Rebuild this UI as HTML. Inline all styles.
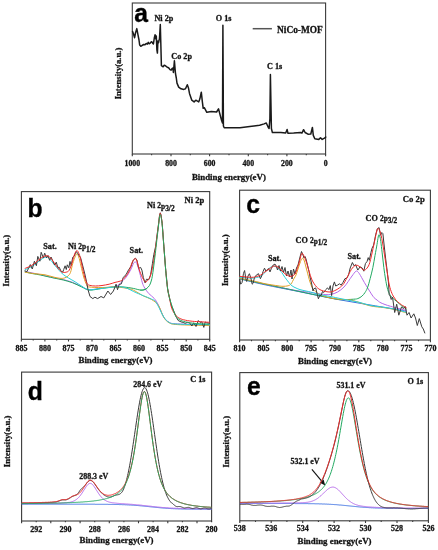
<!DOCTYPE html>
<html><head><meta charset="utf-8"><style>
html,body{margin:0;padding:0;background:#fff;width:438px;height:550px;overflow:hidden;}
svg{display:block;will-change:transform;}
text{fill:#111;}
.s{stroke:#1a1a1a;stroke-width:0.3px;}
</style></head><body>
<svg width="438" height="550" viewBox="0 0 438 550"><rect x="132.3" y="3.0" width="193.3" height="151.0" fill="none" stroke="#3a3a3a" stroke-width="1.1"/>
<path d="M132.3,154.0 v2.2 M151.6,154.0 v1.3 M171.0,154.0 v2.2 M190.3,154.0 v1.3 M209.6,154.0 v2.2 M229.0,154.0 v1.3 M248.3,154.0 v2.2 M267.6,154.0 v1.3 M286.9,154.0 v2.2 M306.3,154.0 v1.3 M325.6,154.0 v2.2 " stroke="#3a3a3a" stroke-width="1.1" fill="none"/>
<text class="s" x="132.3" y="166.1" font-size="7.80" text-anchor="middle" font-weight="bold" font-family="Liberation Serif" >1000</text>
<text class="s" x="171.0" y="166.1" font-size="7.80" text-anchor="middle" font-weight="bold" font-family="Liberation Serif" >800</text>
<text class="s" x="209.6" y="166.1" font-size="7.80" text-anchor="middle" font-weight="bold" font-family="Liberation Serif" >600</text>
<text class="s" x="248.3" y="166.1" font-size="7.80" text-anchor="middle" font-weight="bold" font-family="Liberation Serif" >400</text>
<text class="s" x="286.9" y="166.1" font-size="7.80" text-anchor="middle" font-weight="bold" font-family="Liberation Serif" >200</text>
<text class="s" x="325.6" y="166.1" font-size="7.80" text-anchor="middle" font-weight="bold" font-family="Liberation Serif" >0</text>
<text class="s" x="228.9" y="179.6" font-size="8.85" text-anchor="middle" font-weight="bold" font-family="Liberation Serif" >Binding energy(eV)</text>
<text class="s" x="0" y="0" font-size="8.60" text-anchor="middle" font-weight="bold" font-family="Liberation Serif" transform="translate(120.6,73.5) rotate(-90)">Intensity(a.u.)</text>
<text x="0" y="0" font-size="25.2" font-weight="bold" font-family="Liberation Sans" stroke="#000" stroke-width="0.35" style="fill:#000" transform="translate(134.3,22.2) scale(0.980,1)">a</text>
<text class="s" x="154.4" y="20.5" font-size="8.20" text-anchor="start" font-weight="bold" font-family="Liberation Serif" >Ni 2p</text>
<text class="s" x="171.3" y="58.6" font-size="8.20" text-anchor="start" font-weight="bold" font-family="Liberation Serif" >Co 2p</text>
<text class="s" x="215.8" y="20.5" font-size="8.20" text-anchor="start" font-weight="bold" font-family="Liberation Serif" >O 1s</text>
<text class="s" x="267.0" y="68.8" font-size="8.20" text-anchor="start" font-weight="bold" font-family="Liberation Serif" >C 1s</text>
<path d="M252.7,28.7 H271.9" stroke="#555" stroke-width="1.5"/>
<text class="s" x="277.0" y="32.7" font-size="9.40" text-anchor="start" font-weight="bold" font-family="Liberation Serif" >NiCo-MOF</text>
<path d="M132.6,31.4 L133.5,34.0 L134.6,37.7 L135.5,33.0 L136.8,28.6 L138.0,34.8 L139.0,40.0 L139.7,45.1 L140.8,46.3 L142.0,45.5 L143.7,44.5 L145.0,44.8 L146.2,43.5 L147.3,44.2 L148.3,42.3 L149.2,43.8 L150.0,43.4 L150.9,42.1 L151.7,41.7 L152.6,43.2 L153.4,44.0 L154.3,38.0 L155.1,34.8 L155.8,39.0 L156.3,36.0 L156.9,50.0 L157.4,53.1 L157.9,41.0 L158.5,42.8 L159.5,38.3 L160.3,24.6 L160.8,42.8 L161.4,65.7 L163.1,66.8 L164.2,65.2 L165.4,65.7 L166.8,66.9 L168.8,68.0 L170.0,69.6 L171.1,70.2 L172.0,68.6 L172.8,68.0 L173.4,72.5 L174.4,60.8 L175.5,73.7 L176.3,78.0 L177.0,83.1 L178.7,87.1 L181.0,88.8 L183.8,89.4 L185.5,88.8 L187.3,84.8 L188.4,87.7 L189.5,93.4 L191.8,100.2 L194.1,101.9 L195.8,100.2 L198.7,101.9 L199.8,99.1 L201.3,92.2 L202.3,101.4 L203.2,108.3 L204.3,107.7 L206.8,112.3 L211.4,111.5 L216.6,112.0 L218.5,108.8 L220.0,114.5 L221.7,120.8 L222.5,123.0 L222.9,25.2 L223.4,126.0 L224.2,127.7 L227.4,127.7 L234.2,127.7 L240.0,127.7 L249.8,126.6 L259.6,125.3 L264.1,123.9 L266.3,123.0 L268.3,127.5 L269.1,128.5 L269.9,118.7 L270.4,74.5 L271.4,128.5 L272.4,132.6 L280.9,132.6 L285.7,133.1 L287.1,129.5 L288.0,133.3 L293.7,133.1 L300.5,132.5 L301.9,133.1 L303.6,129.7 L305.1,132.5 L308.0,134.2 L310.8,134.0 L312.4,127.4 L313.3,135.4 L314.8,138.8 L318.8,139.4 L320.5,137.7 L322.2,139.4 L324.5,138.2 L325.7,137.1" fill="none" stroke="#1a1a1a" stroke-width="1.50" stroke-linejoin="round" stroke-linecap="round" />
<rect x="21.4" y="191.6" width="188.3" height="147.7" fill="none" stroke="#3a3a3a" stroke-width="1.1"/>
<path d="M21.4,339.3 v2.2 M33.2,339.3 v1.3 M44.9,339.3 v2.2 M56.7,339.3 v1.3 M68.5,339.3 v2.2 M80.2,339.3 v1.3 M92.0,339.3 v2.2 M103.8,339.3 v1.3 M115.5,339.3 v2.2 M127.3,339.3 v1.3 M139.1,339.3 v2.2 M150.9,339.3 v1.3 M162.6,339.3 v2.2 M174.4,339.3 v1.3 M186.2,339.3 v2.2 M197.9,339.3 v1.3 M209.7,339.3 v2.2 " stroke="#3a3a3a" stroke-width="1.1" fill="none"/>
<text class="s" x="21.4" y="350.6" font-size="8.00" text-anchor="middle" font-weight="bold" font-family="Liberation Serif" >885</text>
<text class="s" x="44.9" y="350.6" font-size="8.00" text-anchor="middle" font-weight="bold" font-family="Liberation Serif" >880</text>
<text class="s" x="68.5" y="350.6" font-size="8.00" text-anchor="middle" font-weight="bold" font-family="Liberation Serif" >875</text>
<text class="s" x="92.0" y="350.6" font-size="8.00" text-anchor="middle" font-weight="bold" font-family="Liberation Serif" >870</text>
<text class="s" x="115.5" y="350.6" font-size="8.00" text-anchor="middle" font-weight="bold" font-family="Liberation Serif" >865</text>
<text class="s" x="139.1" y="350.6" font-size="8.00" text-anchor="middle" font-weight="bold" font-family="Liberation Serif" >860</text>
<text class="s" x="162.6" y="350.6" font-size="8.00" text-anchor="middle" font-weight="bold" font-family="Liberation Serif" >855</text>
<text class="s" x="186.2" y="350.6" font-size="8.00" text-anchor="middle" font-weight="bold" font-family="Liberation Serif" >850</text>
<text class="s" x="209.7" y="350.6" font-size="8.00" text-anchor="middle" font-weight="bold" font-family="Liberation Serif" >845</text>
<text class="s" x="115.5" y="362.5" font-size="8.85" text-anchor="middle" font-weight="bold" font-family="Liberation Serif" >Binding energy(eV)</text>
<text class="s" x="0" y="0" font-size="8.60" text-anchor="middle" font-weight="bold" font-family="Liberation Serif" transform="translate(9.3,260.6) rotate(-90)">Intensity(a.u.)</text>
<text x="0" y="0" font-size="25.2" font-weight="bold" font-family="Liberation Sans" stroke="#000" stroke-width="0.35" style="fill:#000" transform="translate(27.6,217.0) scale(0.980,1)">b</text>
<text class="s" x="184.6" y="202.6" font-size="8.50" text-anchor="start" font-weight="bold" font-family="Liberation Serif" >Ni 2p</text>
<text class="s" x="43.3" y="248.9" font-size="8.20" text-anchor="start" font-weight="bold" font-family="Liberation Serif" >Sat.</text>
<text class="s" x="129.6" y="252.8" font-size="8.20" text-anchor="start" font-weight="bold" font-family="Liberation Serif" >Sat.</text>
<text class="s" x="68.0" y="248.7" font-size="8.20" font-weight="bold" font-family="Liberation Serif">Ni <tspan font-size="7.4">2</tspan><tspan font-size="7.4" dy="0.6">p</tspan><tspan font-size="7.4" dy="2.4">1/2</tspan></text>
<text class="s" x="147.1" y="208.1" font-size="8.20" font-weight="bold" font-family="Liberation Serif">Ni <tspan font-size="7.4">2</tspan><tspan font-size="7.4" dy="0.6">p</tspan><tspan font-size="7.4" dy="2.5">3/2</tspan></text>
<path d="M25.1,271.5 C27.7,272.0 35.7,273.6 40.5,274.7 C45.3,275.8 50.3,277.0 54.1,277.8 C57.9,278.6 60.2,278.9 63.3,279.6 C66.3,280.4 69.4,281.2 72.4,282.3 C75.4,283.4 78.8,285.2 81.5,286.4 C84.2,287.6 85.2,289.4 88.7,289.7 C92.2,290.0 97.8,288.6 102.4,288.0 C107.0,287.4 113.1,287.1 116.1,286.2 C119.1,285.3 118.8,284.4 120.5,282.9 C122.2,281.4 124.3,279.5 126.0,277.4 C127.7,275.3 129.3,272.2 130.5,270.1 C131.7,268.0 132.3,265.9 133.0,264.5 C133.7,263.1 134.2,262.1 134.8,262.0 C135.5,261.9 136.1,261.9 136.9,263.7 C137.7,265.5 138.8,269.6 139.7,272.8 C140.6,276.0 141.6,280.4 142.4,282.9 C143.2,285.4 143.6,286.2 144.7,288.0 C145.8,289.8 147.2,291.9 148.8,293.6 C150.4,295.3 152.6,296.5 154.2,298.4 C155.8,300.3 156.8,301.9 158.4,305.0 C160.0,308.1 161.9,314.1 163.7,317.0 C165.5,319.9 166.9,321.2 169.2,322.3 C171.5,323.4 170.7,323.5 177.4,323.9 C184.1,324.3 204.0,324.5 209.3,324.6" fill="none" stroke="#b468e8" stroke-width="1.00" stroke-linejoin="round" stroke-linecap="round" />
<path d="M25.1,271.9 C26.2,272.2 29.4,273.0 32.0,273.5 C34.6,274.0 38.0,274.5 40.5,275.0 C43.0,275.5 44.7,276.0 47.0,276.5 C49.3,277.0 51.4,277.5 54.1,278.1 C56.8,278.7 60.2,279.2 63.3,280.0 C66.3,280.8 69.4,281.6 72.4,282.7 C75.4,283.8 78.8,285.7 81.5,286.9 C84.2,288.1 86.5,289.6 88.7,290.0 C91.0,290.4 92.7,289.9 95.0,289.6 C97.3,289.3 99.9,288.7 102.4,288.3 C104.9,287.9 107.7,287.6 110.0,287.3 C112.3,287.1 113.8,286.9 116.1,286.8 C118.4,286.8 121.2,286.7 124.1,287.0 C127.0,287.3 130.6,287.9 133.3,288.4 C136.0,288.9 138.7,289.9 140.5,290.1 C142.3,290.3 143.0,290.1 144.0,289.8 C145.0,289.6 146.1,288.8 146.5,288.6" fill="none" stroke="#20a860" stroke-width="1.00" stroke-linejoin="round" stroke-linecap="round" />
<path d="M25.1,272.2 C26.5,272.4 30.4,273.2 33.7,273.6 C37.0,274.0 41.6,274.2 45.0,274.8 C48.4,275.4 51.4,276.6 54.1,277.2 C56.8,277.8 59.3,278.3 61.1,278.4 C62.9,278.5 63.9,278.2 65.0,277.8 C66.2,277.4 67.1,276.9 68.0,276.0 C68.9,275.1 69.7,274.5 70.5,272.4 C71.3,270.3 72.0,265.9 72.8,263.3 C73.6,260.7 74.4,258.5 75.1,256.9 C75.8,255.3 76.3,253.7 76.9,253.7 C77.5,253.7 78.0,254.8 78.7,256.9 C79.4,258.9 80.2,262.6 81.0,266.0 C81.8,269.4 82.8,273.9 83.7,277.0 C84.6,280.1 85.7,283.0 86.5,284.6 C87.3,286.2 86.0,286.4 88.7,286.9 C91.4,287.4 97.8,287.6 102.4,287.6 C107.0,287.6 111.5,286.7 116.1,286.9 C120.7,287.1 126.7,288.3 129.8,289.0 C133.0,289.7 132.8,289.9 135.0,291.0 C137.2,292.1 140.6,294.5 143.3,295.9 C146.1,297.3 149.0,297.9 151.5,299.5 C154.0,301.1 156.4,302.3 158.4,305.3 C160.4,308.3 161.9,314.4 163.7,317.3 C165.5,320.2 166.9,321.6 169.2,322.8 C171.5,324.0 170.7,324.1 177.4,324.6 C184.1,325.1 204.0,325.4 209.3,325.6" fill="none" stroke="#e0a028" stroke-width="1.00" stroke-linejoin="round" stroke-linecap="round" />
<path d="M25.1,269.8 C26.5,269.1 31.1,267.0 33.7,265.3 C36.3,263.6 38.3,261.3 40.5,259.9 C42.7,258.4 45.2,256.8 46.7,256.6 C48.2,256.5 48.4,257.7 49.6,259.0 C50.8,260.3 52.6,262.6 54.1,264.4 C55.6,266.2 57.2,268.2 58.7,269.9 C60.2,271.6 61.6,273.1 63.3,274.5 C65.0,275.9 66.7,276.9 68.7,278.1 C70.7,279.3 73.0,280.5 75.1,281.8 C77.2,283.1 79.2,284.7 81.5,286.0 C83.8,287.3 85.2,289.3 88.7,289.7 C92.2,290.1 97.8,288.8 102.4,288.3 C107.0,287.8 113.2,287.1 116.1,286.9 C119.0,286.6 118.2,286.6 120.0,286.8 C121.8,287.0 124.7,287.4 127.0,288.2 C129.3,289.0 131.0,290.4 133.7,291.6 C136.4,292.9 140.3,294.4 143.3,295.7 C146.3,296.9 149.5,298.1 151.5,299.1 C153.5,300.1 154.2,299.9 155.5,301.5 C156.8,303.1 158.2,306.2 159.6,308.8 C161.0,311.4 162.1,314.7 163.7,317.0 C165.3,319.3 166.9,321.3 169.2,322.5 C171.5,323.7 170.7,323.7 177.4,324.1 C184.1,324.5 204.0,324.6 209.3,324.7" fill="none" stroke="#28d0d8" stroke-width="1.00" stroke-linejoin="round" stroke-linecap="round" />
<path d="M25.1,270.5 L26.6,272.0 L28.5,268.5 L30.3,264.6 L32.3,269.0 L34.4,261.2 L36.4,265.7 L37.8,256.4 L39.9,261.2 L41.2,252.3 L43.3,257.8 L44.7,253.2 L46.5,258.0 L48.0,255.5 L49.6,260.3 L51.0,257.0 L52.9,261.2 L54.6,265.0 L56.3,262.2 L57.8,267.5 L59.2,267.2 L61.0,271.2 L62.8,272.0 L63.7,269.5 L65.1,265.8 L66.3,269.5 L67.3,264.8 L68.8,267.8 L70.0,261.4 L71.2,265.6 L72.7,257.3 L74.2,256.2 L76.0,251.7 L77.4,252.6 L78.8,255.3 L80.5,257.4 L82.8,266.0 L85.1,275.1 L86.9,283.4 L88.0,289.7 L90.0,296.5 L92.8,298.6 L94.9,297.2 L97.6,298.6 L101.0,296.5 L103.8,297.9 L107.9,291.0 L110.6,294.5 L113.4,291.0 L116.1,284.2 L117.5,289.7 L119.2,284.5 L121.4,283.8 L123.2,277.4 L126.0,274.7 L128.7,269.6 L131.0,266.4 L133.3,260.0 L135.5,258.2 L136.9,260.0 L138.7,268.3 L140.6,267.4 L141.9,270.1 L143.3,277.4 L145.1,282.9 L146.5,279.2 L148.8,279.7 L150.6,274.7 L152.4,263.7 L153.8,254.6 L155.6,246.5 L157.2,234.0 L158.6,223.5 L159.6,215.0 L160.3,212.8 L161.0,215.0 L162.2,223.5 L163.9,246.5 L165.5,267.5 L167.6,288.5 L169.5,298.0 L171.5,306.0 L174.0,311.5 L176.4,317.4 L178.2,320.5 L181.0,321.9 L183.2,322.4 L185.1,323.3 L187.4,322.4 L189.5,322.8 L191.9,326.0 L193.7,322.8 L196.0,326.5 L198.3,320.5 L200.1,322.4 L201.8,321.8 L203.8,327.4 L205.2,322.0 L206.5,322.8 L209.3,323.3" fill="none" stroke="#3a3a3a" stroke-width="1.00" stroke-linejoin="round" stroke-linecap="round" />
<path d="M25.1,268.4 C25.8,268.1 28.1,267.2 29.5,266.5 C30.9,265.8 31.9,265.3 33.7,264.0 C35.5,262.7 38.5,259.9 40.5,258.5 C42.5,257.1 44.5,256.0 46.0,255.8 C47.5,255.6 48.2,256.0 49.6,257.1 C51.0,258.2 52.6,260.6 54.1,262.6 C55.6,264.6 57.3,267.4 58.7,269.0 C60.1,270.6 61.2,271.7 62.4,272.2 C63.6,272.7 64.9,272.5 66.0,272.2 C67.1,271.9 68.1,271.9 69.1,270.4 C70.1,268.9 71.2,265.4 71.9,263.3 C72.6,261.2 73.0,259.1 73.5,257.5 C74.0,255.8 74.3,254.6 74.9,253.4 C75.5,252.2 76.2,250.5 76.9,250.5 C77.6,250.5 78.3,252.1 78.9,253.4 C79.5,254.7 80.0,256.6 80.5,258.5 C81.0,260.4 81.4,262.9 81.9,265.1 C82.4,267.3 82.8,269.5 83.3,271.5 C83.8,273.5 84.2,275.3 84.7,277.0 C85.2,278.7 85.7,280.4 86.2,281.6 C86.7,282.8 87.0,283.7 87.6,284.3 C88.2,284.9 88.7,285.1 90.0,285.4 C91.3,285.7 93.5,286.0 95.5,286.0 C97.5,286.0 99.7,285.8 102.0,285.5 C104.3,285.2 107.0,284.7 109.2,284.2 C111.4,283.7 113.1,282.9 115.0,282.4 C116.9,281.9 119.0,281.7 120.5,281.0 C122.0,280.3 122.7,279.8 124.1,278.3 C125.5,276.8 127.3,274.6 128.7,271.9 C130.1,269.2 131.3,264.1 132.4,261.9 C133.5,259.7 134.3,258.8 135.1,258.7 C135.8,258.6 136.1,258.9 136.9,261.0 C137.7,263.1 138.6,268.0 139.7,271.0 C140.8,274.0 142.3,277.4 143.3,279.2 C144.3,281.0 144.8,281.9 145.6,282.0 C146.4,282.1 147.1,281.0 147.9,280.1 C148.7,279.2 149.4,278.5 150.2,276.5 C150.9,274.5 151.7,271.5 152.4,268.3 C153.1,265.1 153.8,260.7 154.3,257.3 C154.8,253.9 155.1,251.4 155.6,247.7 C156.1,244.0 156.7,238.9 157.2,235.0 C157.7,231.1 158.2,227.2 158.6,224.0 C159.0,220.8 159.3,217.3 159.6,215.5 C159.9,213.7 160.1,213.2 160.3,213.2 C160.5,213.2 160.7,213.7 161.0,215.5 C161.3,217.3 161.7,218.8 162.2,224.0 C162.7,229.2 163.3,239.6 163.9,246.9 C164.5,254.2 164.9,260.9 165.5,267.9 C166.1,274.9 166.9,283.9 167.6,288.9 C168.3,293.9 168.8,294.7 169.5,298.0 C170.2,301.3 170.8,305.7 171.8,308.5 C172.8,311.3 174.3,313.4 175.5,315.0 C176.7,316.6 177.7,317.2 179.1,318.0 C180.5,318.8 181.4,319.2 183.7,319.8 C186.0,320.4 188.5,320.9 192.8,321.3 C197.1,321.7 206.6,322.1 209.3,322.3" fill="none" stroke="#f02a2a" stroke-width="1.00" stroke-linejoin="round" stroke-linecap="round" />
<path d="M140.5,290.1 C141.1,290.1 143.0,290.1 144.0,289.8 C145.0,289.6 145.6,289.3 146.5,288.6 C147.4,287.9 148.7,286.8 149.5,285.4 C150.3,284.0 150.9,282.2 151.5,280.0 C152.1,277.8 152.3,276.2 152.9,272.4 C153.5,268.6 154.3,261.6 154.9,257.0 C155.5,252.4 155.9,248.3 156.3,245.0 C156.7,241.7 156.8,240.3 157.2,237.0 C157.6,233.7 158.2,228.4 158.6,225.0 C159.0,221.6 159.3,218.2 159.6,216.5 C159.9,214.8 160.1,214.6 160.3,214.6 C160.5,214.6 160.7,214.8 161.0,216.5 C161.3,218.2 161.7,219.9 162.2,225.0 C162.7,230.1 163.3,239.8 163.9,246.9 C164.5,254.1 164.9,260.9 165.5,267.9 C166.1,274.9 166.9,283.9 167.6,288.9 C168.3,293.9 168.9,295.6 169.5,298.0 C170.1,300.4 170.6,301.7 171.2,303.5 C171.8,305.3 172.3,306.9 173.0,309.0 C173.7,311.1 174.5,314.1 175.5,315.8 C176.5,317.5 177.7,318.5 179.1,319.4 C180.5,320.3 181.4,320.8 183.7,321.4 C186.0,322.0 188.5,322.7 192.8,323.2 C197.1,323.7 206.6,324.0 209.3,324.2" fill="none" stroke="#20a860" stroke-width="1.00" stroke-linejoin="round" stroke-linecap="round" />
<rect x="239.6" y="190.2" width="190.8" height="149.8" fill="none" stroke="#3a3a3a" stroke-width="1.1"/>
<path d="M239.6,340.0 v2.2 M251.5,340.0 v1.3 M263.4,340.0 v2.2 M275.4,340.0 v1.3 M287.3,340.0 v2.2 M299.2,340.0 v1.3 M311.1,340.0 v2.2 M323.1,340.0 v1.3 M335.0,340.0 v2.2 M346.9,340.0 v1.3 M358.8,340.0 v2.2 M370.8,340.0 v1.3 M382.7,340.0 v2.2 M394.6,340.0 v1.3 M406.5,340.0 v2.2 M418.5,340.0 v1.3 M430.4,340.0 v2.2 " stroke="#3a3a3a" stroke-width="1.1" fill="none"/>
<text class="s" x="239.6" y="351.0" font-size="8.00" text-anchor="middle" font-weight="bold" font-family="Liberation Serif" >810</text>
<text class="s" x="263.4" y="351.0" font-size="8.00" text-anchor="middle" font-weight="bold" font-family="Liberation Serif" >805</text>
<text class="s" x="287.3" y="351.0" font-size="8.00" text-anchor="middle" font-weight="bold" font-family="Liberation Serif" >800</text>
<text class="s" x="311.1" y="351.0" font-size="8.00" text-anchor="middle" font-weight="bold" font-family="Liberation Serif" >795</text>
<text class="s" x="335.0" y="351.0" font-size="8.00" text-anchor="middle" font-weight="bold" font-family="Liberation Serif" >790</text>
<text class="s" x="358.8" y="351.0" font-size="8.00" text-anchor="middle" font-weight="bold" font-family="Liberation Serif" >785</text>
<text class="s" x="382.7" y="351.0" font-size="8.00" text-anchor="middle" font-weight="bold" font-family="Liberation Serif" >780</text>
<text class="s" x="406.5" y="351.0" font-size="8.00" text-anchor="middle" font-weight="bold" font-family="Liberation Serif" >775</text>
<text class="s" x="430.4" y="351.0" font-size="8.00" text-anchor="middle" font-weight="bold" font-family="Liberation Serif" >770</text>
<text class="s" x="335.0" y="364.0" font-size="8.85" text-anchor="middle" font-weight="bold" font-family="Liberation Serif" >Binding energy(eV)</text>
<text class="s" x="0" y="0" font-size="8.60" text-anchor="middle" font-weight="bold" font-family="Liberation Serif" transform="translate(228.0,260.2) rotate(-90)">Intensity(a.u.)</text>
<text x="0" y="0" font-size="25.2" font-weight="bold" font-family="Liberation Sans" stroke="#000" stroke-width="0.35" style="fill:#000" transform="translate(246.2,212.6) scale(0.980,1)">c</text>
<text class="s" x="402.8" y="201.5" font-size="8.70" text-anchor="start" font-weight="bold" font-family="Liberation Serif" >Co 2p</text>
<text class="s" x="267.9" y="260.5" font-size="8.20" text-anchor="start" font-weight="bold" font-family="Liberation Serif" >Sat.</text>
<text class="s" x="347.5" y="259.2" font-size="8.20" text-anchor="start" font-weight="bold" font-family="Liberation Serif" >Sat.</text>
<text class="s" x="295.6" y="243.0" font-size="8.20" font-weight="bold" font-family="Liberation Serif">CO <tspan font-size="7.4">2</tspan><tspan font-size="7.4" dy="0.6">p</tspan><tspan font-size="7.4" dy="0.9">1/2</tspan></text>
<text class="s" x="365.6" y="220.8" font-size="8.20" font-weight="bold" font-family="Liberation Serif">CO <tspan font-size="7.4">2</tspan><tspan font-size="7.4" dy="0.6">p</tspan><tspan font-size="7.4" dy="1.5">3/2</tspan></text>
<path d="M239.8,278.8 C244.1,279.8 256.0,282.9 265.4,284.9 C274.8,286.9 285.6,288.9 296.0,291.0 C306.4,293.1 319.0,295.8 328.0,297.6 C337.0,299.4 340.8,300.0 350.0,301.6 C359.2,303.2 374.1,305.6 383.5,307.2 C392.9,308.8 402.5,310.5 406.3,311.2" fill="none" stroke="#3a6ee0" stroke-width="1.00" stroke-linejoin="round" stroke-linecap="round" />
<path d="M239.8,278.6 C248.2,280.4 278.2,287.1 290.0,289.4 C301.8,291.7 305.3,291.6 310.5,292.4 C315.7,293.2 317.8,293.8 321.1,294.1 C324.4,294.5 327.6,294.9 330.3,294.5 C333.1,294.1 335.3,293.2 337.6,292.0 C339.9,290.8 342.2,288.8 344.0,287.0 C345.8,285.2 346.9,283.3 348.2,281.5 C349.5,279.7 350.7,277.7 352.0,276.0 C353.3,274.3 354.8,272.0 355.8,271.3 C356.8,270.6 357.2,271.3 358.0,272.0 C358.8,272.7 359.2,273.4 360.5,275.6 C361.8,277.8 363.9,281.8 366.0,285.2 C368.1,288.6 371.1,293.7 372.9,296.2 C374.7,298.7 375.6,298.9 377.0,300.0 C378.4,301.1 378.8,301.8 381.0,302.9 C383.2,303.9 386.3,305.1 390.5,306.3 C394.7,307.6 403.7,309.7 406.3,310.4" fill="none" stroke="#b468e8" stroke-width="1.00" stroke-linejoin="round" stroke-linecap="round" />
<path d="M239.8,278.8 C249.8,280.9 284.9,288.4 300.0,291.6 C315.1,294.8 323.6,296.6 330.3,297.9 C337.0,299.2 336.1,299.4 340.0,299.6 C343.9,299.8 350.7,299.4 353.7,299.2 C356.7,299.0 356.6,299.0 358.0,298.5 C359.4,298.0 360.7,297.2 361.9,296.2 C363.1,295.2 364.1,293.9 365.0,292.5 C365.9,291.1 366.5,290.3 367.4,288.0 C368.3,285.7 369.3,281.9 370.2,278.5 C371.1,275.1 372.1,271.2 372.9,267.4 C373.7,263.6 374.3,259.3 375.0,255.5 C375.7,251.7 376.5,247.6 377.0,244.5 C377.5,241.4 377.9,238.6 378.2,237.0 C378.5,235.4 378.7,234.7 379.0,234.7 C379.3,234.7 379.6,235.5 380.0,237.0 C380.4,238.5 380.7,240.6 381.1,243.8 C381.5,247.0 382.1,252.1 382.5,256.0 C382.9,259.9 383.3,263.6 383.8,267.4 C384.3,271.2 384.9,275.6 385.5,279.0 C386.1,282.4 386.7,285.6 387.3,288.0 C387.9,290.4 388.4,291.9 389.2,293.5 C390.0,295.1 391.1,296.4 392.0,297.5 C392.9,298.6 393.1,298.4 394.7,299.8 C396.3,301.2 399.6,304.1 401.5,305.6 C403.4,307.1 405.5,308.4 406.3,309.0" fill="none" stroke="#20a860" stroke-width="1.00" stroke-linejoin="round" stroke-linecap="round" />
<path d="M239.8,278.1 C242.6,278.7 252.0,280.7 256.3,281.6 C260.6,282.6 261.8,283.1 265.4,283.8 C269.0,284.5 275.1,285.4 278.0,285.8 C280.9,286.2 281.3,286.3 283.0,286.3 C284.7,286.3 286.7,286.2 288.0,285.8 C289.3,285.4 290.0,285.2 291.0,284.0 C292.0,282.8 293.2,280.0 294.0,278.5 C294.8,277.0 295.3,276.6 296.0,275.0 C296.7,273.4 297.3,271.0 298.0,269.0 C298.7,267.0 299.3,264.8 300.0,263.0 C300.7,261.2 301.3,259.0 302.0,258.5 C302.7,258.0 303.2,257.9 304.0,260.0 C304.8,262.1 306.0,267.3 307.0,271.0 C308.0,274.7 309.0,279.0 310.0,282.0 C311.0,285.0 311.9,287.3 313.0,289.0 C314.1,290.7 315.2,291.4 316.6,292.4 C318.0,293.4 318.8,294.3 321.1,295.2 C323.4,296.1 327.2,297.2 330.3,297.9 C333.4,298.6 336.4,298.9 340.0,299.3 C343.6,299.7 347.0,299.2 352.0,300.3 C357.0,301.4 364.7,304.6 370.0,305.8 C375.3,307.0 379.6,307.0 383.7,307.6 C387.8,308.2 390.9,308.7 394.7,309.6 C398.5,310.5 404.4,312.3 406.3,312.8" fill="none" stroke="#e0a028" stroke-width="1.00" stroke-linejoin="round" stroke-linecap="round" />
<path d="M239.8,277.4 C241.8,277.5 248.9,278.1 251.7,278.1 C254.4,278.1 254.8,277.9 256.3,277.6 C257.8,277.3 259.6,276.9 260.8,276.2 C262.0,275.5 262.7,274.6 263.6,273.7 C264.6,272.8 265.6,271.9 266.5,271.0 C267.4,270.1 268.1,269.2 269.0,268.5 C269.9,267.8 271.0,266.9 272.0,266.5 C273.0,266.1 274.0,266.1 275.0,266.4 C276.0,266.7 276.9,267.2 278.0,268.2 C279.1,269.2 280.8,271.2 281.8,272.5 C282.8,273.8 282.9,274.4 284.0,276.0 C285.1,277.6 287.4,280.7 288.7,282.3 C290.0,283.9 290.8,284.9 292.0,285.8 C293.2,286.8 294.7,287.4 296.0,288.0 C297.3,288.6 298.3,289.1 300.0,289.6 C301.7,290.1 304.2,290.6 306.0,291.0 C307.8,291.4 308.8,291.6 310.5,292.0 C312.2,292.4 313.7,293.0 316.0,293.6 C318.3,294.2 321.7,295.0 324.2,295.5 C326.7,296.0 328.4,296.1 331.0,296.6 C333.6,297.1 336.8,297.9 340.0,298.5 C343.2,299.1 346.7,299.8 350.0,300.5 C353.3,301.2 356.7,301.7 360.0,302.5 C363.3,303.3 366.1,304.6 370.0,305.4 C373.9,306.2 379.6,306.7 383.7,307.3 C387.8,307.9 390.9,308.4 394.7,309.2 C398.5,310.0 404.4,311.8 406.3,312.3" fill="none" stroke="#28d0d8" stroke-width="1.00" stroke-linejoin="round" stroke-linecap="round" />
<path d="M239.8,279.7 L240.7,284.2 L242.1,282.4 L243.5,273.3 L244.6,270.5 L245.8,278.7 L246.7,281.5 L248.0,276.0 L249.4,273.7 L250.8,277.8 L252.2,284.2 L253.1,283.3 L254.4,277.8 L256.3,275.1 L258.5,273.7 L260.4,278.7 L261.7,276.0 L263.1,271.4 L264.5,268.2 L265.9,271.0 L267.2,269.6 L268.6,268.7 L270.0,271.9 L271.3,268.7 L273.2,265.0 L275.0,264.1 L276.4,266.4 L277.5,270.0 L279.0,265.5 L280.5,271.0 L282.0,266.5 L283.5,272.5 L285.0,267.5 L286.5,276.0 L288.0,271.0 L289.5,277.0 L291.0,270.0 L292.0,279.0 L293.5,269.0 L295.0,274.0 L296.5,268.0 L298.0,265.0 L300.0,257.0 L301.5,251.5 L303.0,255.0 L304.0,258.0 L305.0,256.5 L306.0,259.0 L307.5,265.0 L309.0,271.5 L310.0,277.0 L311.5,283.0 L313.0,291.0 L313.8,288.8 L315.7,287.9 L317.0,293.4 L318.4,298.8 L319.8,295.2 L321.1,295.6 L322.5,291.5 L323.9,292.4 L325.7,289.7 L327.5,287.9 L328.9,289.7 L330.3,285.6 L331.6,295.6 L333.0,286.0 L334.4,281.9 L335.7,286.0 L337.6,285.1 L339.4,283.8 L341.2,285.1 L343.0,282.4 L344.9,278.7 L346.7,278.3 L348.5,275.1 L350.2,268.0 L352.4,262.5 L354.0,265.8 L355.6,264.7 L357.8,270.1 L360.0,266.9 L362.2,268.0 L363.8,271.2 L365.4,263.6 L367.1,261.4 L368.2,257.6 L369.3,260.3 L370.9,252.7 L372.0,248.3 L373.6,245.1 L375.8,234.2 L377.4,228.7 L379.1,227.6 L380.5,235.3 L381.8,232.5 L382.9,233.6 L384.0,244.0 L385.6,258.1 L387.2,271.2 L388.5,283.0 L389.2,294.7 L390.2,296.0 L391.2,299.5 L392.5,297.0 L394.7,312.5 L396.7,304.2 L398.8,315.2 L401.5,307.0 L403.5,308.5 L405.2,306.5 L407.0,315.2 L409.0,312.5 L411.1,318.0 L413.8,313.8 L415.5,318.0 L417.3,325.5 L419.3,318.6 L421.8,326.8 L423.3,329.0 L424.8,333.0" fill="none" stroke="#3a3a3a" stroke-width="1.00" stroke-linejoin="round" stroke-linecap="round" />
<path d="M239.8,276.4 C241.8,276.5 248.9,277.3 251.7,277.3 C254.4,277.3 254.8,277.0 256.3,276.6 C257.8,276.2 259.6,275.6 260.8,275.0 C262.0,274.4 262.2,273.8 263.6,272.8 C265.0,271.8 267.6,270.2 269.0,269.2 C270.4,268.2 271.1,267.5 272.0,267.0 C272.9,266.5 273.5,266.0 274.5,266.0 C275.5,266.0 276.9,266.3 278.0,267.0 C279.1,267.7 279.7,268.8 281.0,270.0 C282.3,271.2 284.3,273.4 286.0,274.5 C287.7,275.6 289.5,276.5 291.0,276.4 C292.5,276.3 294.0,275.2 295.0,274.0 C296.0,272.8 296.3,270.8 297.0,269.0 C297.7,267.2 298.2,265.5 299.0,263.0 C299.8,260.5 300.8,255.4 301.5,254.0 C302.2,252.6 302.4,253.3 303.2,254.5 C303.9,255.7 305.0,258.2 306.0,261.0 C307.0,263.8 308.0,267.8 309.0,271.0 C310.0,274.2 310.7,277.3 312.0,280.0 C313.3,282.7 315.1,285.3 316.6,287.0 C318.1,288.7 319.6,289.4 321.1,290.2 C322.6,290.9 324.2,291.2 325.7,291.5 C327.2,291.8 328.8,292.1 330.3,292.0 C331.8,291.9 333.3,291.3 334.8,290.6 C336.3,289.9 337.9,289.1 339.4,287.9 C340.9,286.7 342.6,285.4 344.0,283.3 C345.4,281.2 346.6,278.2 348.0,275.6 C349.4,273.1 351.0,269.7 352.4,268.0 C353.8,266.3 354.9,265.4 356.2,265.2 C357.5,265.0 358.7,266.1 360.0,266.9 C361.3,267.7 362.6,269.9 363.8,270.1 C365.0,270.3 366.1,269.3 367.1,268.0 C368.1,266.7 368.8,265.8 369.8,262.5 C370.8,259.2 372.1,252.8 373.1,248.3 C374.1,243.8 375.1,238.6 375.8,235.3 C376.6,232.0 377.0,229.5 377.6,228.7 C378.2,227.9 378.9,228.8 379.6,230.4 C380.3,232.0 381.0,234.4 381.8,238.5 C382.6,242.6 383.6,249.3 384.5,254.9 C385.4,260.5 386.4,267.3 387.2,272.3 C388.0,277.3 388.5,281.5 389.3,285.0 C390.1,288.5 391.0,291.1 391.9,293.3 C392.8,295.5 393.6,296.6 394.5,298.0 C395.4,299.4 396.2,300.4 397.4,301.5 C398.6,302.6 400.0,303.8 401.5,304.8 C403.0,305.8 405.5,307.2 406.3,307.7" fill="none" stroke="#f02a2a" stroke-width="1.00" stroke-linejoin="round" stroke-linecap="round" />
<rect x="21.6" y="372.1" width="190.0" height="148.9" fill="none" stroke="#3a3a3a" stroke-width="1.1"/>
<path d="M21.6,521.0 v2.2 M36.2,521.0 v1.3 M50.8,521.0 v2.2 M65.4,521.0 v1.3 M80.1,521.0 v2.2 M94.7,521.0 v1.3 M109.3,521.0 v2.2 M123.9,521.0 v1.3 M138.5,521.0 v2.2 M153.1,521.0 v1.3 M167.8,521.0 v2.2 M182.4,521.0 v1.3 M197.0,521.0 v2.2 M211.6,521.0 v1.3 " stroke="#3a3a3a" stroke-width="1.1" fill="none"/>
<text class="s" x="36.2" y="531.6" font-size="8.00" text-anchor="middle" font-weight="bold" font-family="Liberation Serif" >292</text>
<text class="s" x="65.4" y="531.6" font-size="8.00" text-anchor="middle" font-weight="bold" font-family="Liberation Serif" >290</text>
<text class="s" x="94.7" y="531.6" font-size="8.00" text-anchor="middle" font-weight="bold" font-family="Liberation Serif" >288</text>
<text class="s" x="123.9" y="531.6" font-size="8.00" text-anchor="middle" font-weight="bold" font-family="Liberation Serif" >286</text>
<text class="s" x="153.1" y="531.6" font-size="8.00" text-anchor="middle" font-weight="bold" font-family="Liberation Serif" >284</text>
<text class="s" x="182.4" y="531.6" font-size="8.00" text-anchor="middle" font-weight="bold" font-family="Liberation Serif" >282</text>
<text class="s" x="211.6" y="531.6" font-size="8.00" text-anchor="middle" font-weight="bold" font-family="Liberation Serif" >280</text>
<text class="s" x="116.6" y="543.2" font-size="8.85" text-anchor="middle" font-weight="bold" font-family="Liberation Serif" >Binding energy(eV)</text>
<text class="s" x="0" y="0" font-size="8.60" text-anchor="middle" font-weight="bold" font-family="Liberation Serif" transform="translate(10.2,441.4) rotate(-90)">Intensity(a.u.)</text>
<text x="0" y="0" font-size="25.2" font-weight="bold" font-family="Liberation Sans" stroke="#000" stroke-width="0.35" style="fill:#000" transform="translate(27.7,399.6) scale(0.980,1)">d</text>
<text class="s" x="190.3" y="381.9" font-size="8.20" text-anchor="start" font-weight="bold" font-family="Liberation Serif" >C 1s</text>
<text class="s" x="133.3" y="386.8" font-size="7.90" text-anchor="start" font-weight="bold" font-family="Liberation Serif" >284.6 eV</text>
<text class="s" x="79.3" y="479.0" font-size="7.90" text-anchor="start" font-weight="bold" font-family="Liberation Serif" >288.3 eV</text>
<path d="M22.1,504.2 L22.6,504.2 L23.1,504.2 L23.6,504.2 L24.1,504.2 L24.6,504.2 L25.1,504.2 L25.6,504.2 L26.1,504.2 L26.6,504.2 L27.1,504.2 L27.6,504.2 L28.1,504.2 L28.6,504.2 L29.1,504.2 L29.6,504.2 L30.1,504.2 L30.6,504.2 L31.1,504.2 L31.6,504.2 L32.1,504.2 L32.6,504.2 L33.1,504.2 L33.6,504.2 L34.1,504.2 L34.6,504.2 L35.1,504.2 L35.6,504.2 L36.1,504.2 L36.6,504.2 L37.1,504.2 L37.6,504.2 L38.1,504.2 L38.6,504.2 L39.1,504.2 L39.6,504.2 L40.1,504.2 L40.6,504.2 L41.1,504.2 L41.6,504.2 L42.1,504.2 L42.6,504.2 L43.1,504.2 L43.6,504.2 L44.1,504.2 L44.6,504.2 L45.1,504.2 L45.6,504.2 L46.1,504.2 L46.6,504.2 L47.1,504.2 L47.6,504.2 L48.1,504.2 L48.6,504.2 L49.1,504.2 L49.6,504.2 L50.1,504.2 L50.6,504.2 L51.1,504.2 L51.6,504.2 L52.1,504.2 L52.6,504.2 L53.1,504.2 L53.6,504.2 L54.1,504.2 L54.6,504.2 L55.1,504.2 L55.6,504.2 L56.1,504.2 L56.6,504.2 L57.1,504.2 L57.6,504.2 L58.1,504.2 L58.6,504.2 L59.1,504.2 L59.6,504.2 L60.1,504.2 L60.6,504.2 L61.1,504.2 L61.6,504.2 L62.1,504.2 L62.6,504.2 L63.1,504.2 L63.6,504.2 L64.1,504.2 L64.6,504.2 L65.1,504.2 L65.6,504.2 L66.1,504.2 L66.6,504.2 L67.1,504.2 L67.6,504.2 L68.1,504.2 L68.6,504.2 L69.1,504.2 L69.6,504.2 L70.1,504.2 L70.6,504.2 L71.1,504.2 L71.6,504.2 L72.1,504.2 L72.6,504.2 L73.1,504.2 L73.6,504.2 L74.1,504.2 L74.6,504.2 L75.1,504.2 L75.6,504.2 L76.1,504.2 L76.6,504.2 L77.1,504.2 L77.6,504.2 L78.1,504.2 L78.6,504.2 L79.1,504.2 L79.6,504.2 L80.1,504.2 L80.6,504.2 L81.1,504.2 L81.6,504.2 L82.1,504.2 L82.6,504.2 L83.1,504.2 L83.6,504.2 L84.1,504.2 L84.6,504.2 L85.1,504.2 L85.6,504.2 L86.1,504.2 L86.6,504.2 L87.1,504.2 L87.6,504.2 L88.1,504.2 L88.6,504.2 L89.1,504.2 L89.6,504.2 L90.1,504.2 L90.6,504.2 L91.1,504.2 L91.6,504.2 L92.1,504.2 L92.6,504.2 L93.1,504.2 L93.6,504.2 L94.1,504.2 L94.6,504.2 L95.1,504.3 L95.6,504.3 L96.1,504.3 L96.6,504.3 L97.1,504.3 L97.6,504.3 L98.1,504.3 L98.6,504.3 L99.1,504.3 L99.6,504.3 L100.1,504.3 L100.6,504.3 L101.1,504.3 L101.6,504.3 L102.1,504.3 L102.6,504.3 L103.1,504.3 L103.6,504.3 L104.1,504.3 L104.6,504.3 L105.1,504.3 L105.6,504.3 L106.1,504.3 L106.6,504.3 L107.1,504.3 L107.6,504.3 L108.1,504.4 L108.6,504.4 L109.1,504.4 L109.6,504.4 L110.1,504.4 L110.6,504.4 L111.1,504.4 L111.6,504.4 L112.1,504.4 L112.6,504.4 L113.1,504.4 L113.6,504.4 L114.1,504.4 L114.6,504.5 L115.1,504.5 L115.6,504.5 L116.1,504.5 L116.6,504.5 L117.1,504.5 L117.6,504.5 L118.1,504.5 L118.6,504.5 L119.1,504.6 L119.6,504.6 L120.1,504.6 L120.6,504.6 L121.1,504.6 L121.6,504.6 L122.1,504.7 L122.6,504.7 L123.1,504.7 L123.6,504.7 L124.1,504.7 L124.6,504.7 L125.1,504.8 L125.6,504.8 L126.1,504.8 L126.6,504.8 L127.1,504.9 L127.6,504.9 L128.1,504.9 L128.6,504.9 L129.1,505.0 L129.6,505.0 L130.1,505.0 L130.6,505.0 L131.1,505.1 L131.6,505.1 L132.1,505.1 L132.6,505.2 L133.1,505.2 L133.6,505.2 L134.1,505.3 L134.6,505.3 L135.1,505.3 L135.6,505.4 L136.1,505.4 L136.6,505.5 L137.1,505.5 L137.6,505.5 L138.1,505.6 L138.6,505.6 L139.1,505.7 L139.6,505.7 L140.1,505.8 L140.6,505.8 L141.1,505.8 L141.6,505.9 L142.1,505.9 L142.6,506.0 L143.1,506.0 L143.6,506.1 L144.1,506.1 L144.6,506.2 L145.1,506.2 L145.6,506.3 L146.1,506.3 L146.6,506.4 L147.1,506.4 L147.6,506.5 L148.1,506.5 L148.6,506.6 L149.1,506.7 L149.6,506.7 L150.1,506.8 L150.6,506.8 L151.1,506.9 L151.6,506.9 L152.1,507.0 L152.6,507.0 L153.1,507.1 L153.6,507.1 L154.1,507.2 L154.6,507.2 L155.1,507.3 L155.6,507.3 L156.1,507.4 L156.6,507.4 L157.1,507.5 L157.6,507.5 L158.1,507.6 L158.6,507.6 L159.1,507.7 L159.6,507.7 L160.1,507.8 L160.6,507.8 L161.1,507.9 L161.6,507.9 L162.1,507.9 L162.6,508.0 L163.1,508.0 L163.6,508.1 L164.1,508.1 L164.6,508.1 L165.1,508.2 L165.6,508.2 L166.1,508.2 L166.6,508.3 L167.1,508.3 L167.6,508.3 L168.1,508.4 L168.6,508.4 L169.1,508.4 L169.6,508.5 L170.1,508.5 L170.6,508.5 L171.1,508.6 L171.6,508.6 L172.1,508.6 L172.6,508.6 L173.1,508.7 L173.6,508.7 L174.1,508.7 L174.6,508.7 L175.1,508.7 L175.6,508.8 L176.1,508.8 L176.6,508.8 L177.1,508.8 L177.6,508.8 L178.1,508.9 L178.6,508.9 L179.1,508.9 L179.6,508.9 L180.1,508.9 L180.6,508.9 L181.1,508.9 L181.6,509.0 L182.1,509.0 L182.6,509.0 L183.1,509.0 L183.6,509.0 L184.1,509.0 L184.6,509.0 L185.1,509.0 L185.6,509.1 L186.1,509.1 L186.6,509.1 L187.1,509.1 L187.6,509.1 L188.1,509.1 L188.6,509.1 L189.1,509.1 L189.6,509.1 L190.1,509.1 L190.6,509.1 L191.1,509.1 L191.6,509.1 L192.1,509.2 L192.6,509.2 L193.1,509.2 L193.6,509.2 L194.1,509.2 L194.6,509.2 L195.1,509.2 L195.6,509.2 L196.1,509.2 L196.6,509.2 L197.1,509.2 L197.6,509.2 L198.1,509.2 L198.6,509.2 L199.1,509.2 L199.6,509.2 L200.1,509.2 L200.6,509.2 L201.1,509.2 L201.6,509.2 L202.1,509.2 L202.6,509.2 L203.1,509.2 L203.6,509.2 L204.1,509.2 L204.6,509.2 L205.1,509.2 L205.6,509.3 L206.1,509.3 L206.6,509.3 L207.1,509.3 L207.6,509.3 L208.1,509.3 L208.6,509.3 L209.1,509.3 L209.6,509.3 L210.1,509.3 L210.6,509.3 L211.1,509.3" fill="none" stroke="#3a6ee0" stroke-width="1.00" stroke-linejoin="round" stroke-linecap="round" />
<path d="M22.1,503.7 L22.6,503.7 L23.1,503.7 L23.6,503.7 L24.1,503.7 L24.6,503.6 L25.1,503.6 L25.6,503.6 L26.1,503.6 L26.6,503.6 L27.1,503.6 L27.6,503.6 L28.1,503.6 L28.6,503.6 L29.1,503.6 L29.6,503.6 L30.1,503.6 L30.6,503.6 L31.1,503.6 L31.6,503.6 L32.1,503.6 L32.6,503.6 L33.1,503.6 L33.6,503.6 L34.1,503.6 L34.6,503.6 L35.1,503.6 L35.6,503.6 L36.1,503.6 L36.6,503.6 L37.1,503.6 L37.6,503.6 L38.1,503.6 L38.6,503.6 L39.1,503.6 L39.6,503.5 L40.1,503.5 L40.6,503.5 L41.1,503.5 L41.6,503.5 L42.1,503.5 L42.6,503.5 L43.1,503.5 L43.6,503.5 L44.1,503.5 L44.6,503.5 L45.1,503.5 L45.6,503.5 L46.1,503.5 L46.6,503.5 L47.1,503.5 L47.6,503.4 L48.1,503.4 L48.6,503.4 L49.1,503.4 L49.6,503.4 L50.1,503.4 L50.6,503.4 L51.1,503.4 L51.6,503.4 L52.1,503.4 L52.6,503.4 L53.1,503.3 L53.6,503.3 L54.1,503.3 L54.6,503.3 L55.1,503.3 L55.6,503.3 L56.1,503.3 L56.6,503.2 L57.1,503.2 L57.6,503.2 L58.1,503.2 L58.6,503.2 L59.1,503.2 L59.6,503.1 L60.1,503.1 L60.6,503.1 L61.1,503.1 L61.6,503.1 L62.1,503.0 L62.6,503.0 L63.1,503.0 L63.6,502.9 L64.1,502.9 L64.6,502.9 L65.1,502.8 L65.6,502.8 L66.1,502.7 L66.6,502.7 L67.1,502.6 L67.6,502.6 L68.1,502.5 L68.6,502.4 L69.1,502.4 L69.6,502.3 L70.1,502.2 L70.6,502.1 L71.1,501.9 L71.6,501.8 L72.1,501.7 L72.6,501.5 L73.1,501.3 L73.6,501.1 L74.1,500.9 L74.6,500.6 L75.1,500.3 L75.6,500.0 L76.1,499.7 L76.6,499.3 L77.1,498.9 L77.6,498.5 L78.1,498.0 L78.6,497.5 L79.1,496.9 L79.6,496.4 L80.1,495.8 L80.6,495.1 L81.1,494.4 L81.6,493.7 L82.1,493.0 L82.6,492.2 L83.1,491.4 L83.6,490.6 L84.1,489.8 L84.6,489.0 L85.1,488.3 L85.6,487.5 L86.1,486.7 L86.6,486.0 L87.1,485.4 L87.6,484.8 L88.1,484.3 L88.6,483.9 L89.1,483.6 L89.6,483.4 L90.1,483.3 L90.6,483.4 L91.1,483.5 L91.6,483.8 L92.1,484.2 L92.6,484.6 L93.1,485.2 L93.6,485.8 L94.1,486.5 L94.6,487.2 L95.1,488.0 L95.6,488.8 L96.1,489.6 L96.6,490.4 L97.1,491.2 L97.6,491.9 L98.1,492.7 L98.6,493.5 L99.1,494.2 L99.6,494.9 L100.1,495.6 L100.6,496.2 L101.1,496.8 L101.6,497.4 L102.1,497.9 L102.6,498.4 L103.1,498.8 L103.6,499.2 L104.1,499.6 L104.6,500.0 L105.1,500.3 L105.6,500.6 L106.1,500.9 L106.6,501.1 L107.1,501.3 L107.6,501.5 L108.1,501.7 L108.6,501.9 L109.1,502.0 L109.6,502.2 L110.1,502.3 L110.6,502.4 L111.1,502.5 L111.6,502.6 L112.1,502.7 L112.6,502.8 L113.1,502.8 L113.6,502.9 L114.1,503.0 L114.6,503.0 L115.1,503.1 L115.6,503.1 L116.1,503.2 L116.6,503.2 L117.1,503.3 L117.6,503.3 L118.1,503.3 L118.6,503.4 L119.1,503.4 L119.6,503.5 L120.1,503.5 L120.6,503.5 L121.1,503.6 L121.6,503.6 L122.1,503.6 L122.6,503.7 L123.1,503.7 L123.6,503.7 L124.1,503.8 L124.6,503.8 L125.1,503.9 L125.6,503.9 L126.1,503.9 L126.6,504.0 L127.1,504.0 L127.6,504.0 L128.1,504.1 L128.6,504.1 L129.1,504.1 L129.6,504.2 L130.1,504.2 L130.6,504.3 L131.1,504.3 L131.6,504.3 L132.1,504.4 L132.6,504.4 L133.1,504.5 L133.6,504.5 L134.1,504.5 L134.6,504.6 L135.1,504.6 L135.6,504.7 L136.1,504.7 L136.6,504.8 L137.1,504.8 L137.6,504.9 L138.1,504.9 L138.6,504.9 L139.1,505.0 L139.6,505.0 L140.1,505.1 L140.6,505.1 L141.1,505.2 L141.6,505.2 L142.1,505.3 L142.6,505.4 L143.1,505.4 L143.6,505.5 L144.1,505.5 L144.6,505.6 L145.1,505.6 L145.6,505.7 L146.1,505.7 L146.6,505.8 L147.1,505.8 L147.6,505.9 L148.1,506.0 L148.6,506.0 L149.1,506.1 L149.6,506.1 L150.1,506.2 L150.6,506.2 L151.1,506.3 L151.6,506.3 L152.1,506.4 L152.6,506.5 L153.1,506.5 L153.6,506.6 L154.1,506.6 L154.6,506.7 L155.1,506.7 L155.6,506.8 L156.1,506.8 L156.6,506.9 L157.1,506.9 L157.6,507.0 L158.1,507.0 L158.6,507.1 L159.1,507.1 L159.6,507.2 L160.1,507.2 L160.6,507.3 L161.1,507.3 L161.6,507.4 L162.1,507.4 L162.6,507.5 L163.1,507.5 L163.6,507.5 L164.1,507.6 L164.6,507.6 L165.1,507.7 L165.6,507.7 L166.1,507.7 L166.6,507.8 L167.1,507.8 L167.6,507.8 L168.1,507.9 L168.6,507.9 L169.1,507.9 L169.6,508.0 L170.1,508.0 L170.6,508.0 L171.1,508.0 L171.6,508.1 L172.1,508.1 L172.6,508.1 L173.1,508.2 L173.6,508.2 L174.1,508.2 L174.6,508.2 L175.1,508.2 L175.6,508.3 L176.1,508.3 L176.6,508.3 L177.1,508.3 L177.6,508.3 L178.1,508.4 L178.6,508.4 L179.1,508.4 L179.6,508.4 L180.1,508.4 L180.6,508.4 L181.1,508.5 L181.6,508.5 L182.1,508.5 L182.6,508.5 L183.1,508.5 L183.6,508.5 L184.1,508.5 L184.6,508.6 L185.1,508.6 L185.6,508.6 L186.1,508.6 L186.6,508.6 L187.1,508.6 L187.6,508.6 L188.1,508.6 L188.6,508.6 L189.1,508.6 L189.6,508.7 L190.1,508.7 L190.6,508.7 L191.1,508.7 L191.6,508.7 L192.1,508.7 L192.6,508.7 L193.1,508.7 L193.6,508.7 L194.1,508.7 L194.6,508.7 L195.1,508.7 L195.6,508.7 L196.1,508.7 L196.6,508.7 L197.1,508.7 L197.6,508.7 L198.1,508.8 L198.6,508.8 L199.1,508.8 L199.6,508.8 L200.1,508.8 L200.6,508.8 L201.1,508.8 L201.6,508.8 L202.1,508.8 L202.6,508.8 L203.1,508.8 L203.6,508.8 L204.1,508.8 L204.6,508.8 L205.1,508.8 L205.6,508.8 L206.1,508.8 L206.6,508.8 L207.1,508.8 L207.6,508.8 L208.1,508.8 L208.6,508.8 L209.1,508.8 L209.6,508.8 L210.1,508.8 L210.6,508.8 L211.1,508.8" fill="none" stroke="#b468e8" stroke-width="1.00" stroke-linejoin="round" stroke-linecap="round" />
<path d="M22.1,503.2 L22.6,503.2 L23.1,503.1 L23.6,503.1 L24.1,503.1 L24.6,503.1 L25.1,503.1 L25.6,503.1 L26.1,503.1 L26.6,503.1 L27.1,503.1 L27.6,503.1 L28.1,503.1 L28.6,503.1 L29.1,503.0 L29.6,503.0 L30.1,503.0 L30.6,503.0 L31.1,503.0 L31.6,503.0 L32.1,503.0 L32.6,503.0 L33.1,503.0 L33.6,503.0 L34.1,503.0 L34.6,502.9 L35.1,502.9 L35.6,502.9 L36.1,502.9 L36.6,502.9 L37.1,502.9 L37.6,502.9 L38.1,502.9 L38.6,502.8 L39.1,502.8 L39.6,502.8 L40.1,502.8 L40.6,502.8 L41.1,502.8 L41.6,502.8 L42.1,502.7 L42.6,502.7 L43.1,502.7 L43.6,502.7 L44.1,502.7 L44.6,502.7 L45.1,502.6 L45.6,502.6 L46.1,502.6 L46.6,502.6 L47.1,502.6 L47.6,502.6 L48.1,502.5 L48.6,502.5 L49.1,502.5 L49.6,502.5 L50.1,502.4 L50.6,502.4 L51.1,502.4 L51.6,502.4 L52.1,502.3 L52.6,502.3 L53.1,502.3 L53.6,502.2 L54.1,502.2 L54.6,502.1 L55.1,502.1 L55.6,502.0 L56.1,501.9 L56.6,501.8 L57.1,501.6 L57.6,501.5 L58.1,501.3 L58.6,501.2 L59.1,501.0 L59.6,500.8 L60.1,500.6 L60.6,500.4 L61.1,500.2 L61.6,500.1 L62.1,500.0 L62.6,499.9 L63.1,499.9 L63.6,499.9 L64.1,499.9 L64.6,499.9 L65.1,499.9 L65.6,499.9 L66.1,499.8 L66.6,499.7 L67.1,499.5 L67.6,499.3 L68.1,499.1 L68.6,498.8 L69.1,498.5 L69.6,498.2 L70.1,497.9 L70.6,497.6 L71.1,497.2 L71.6,496.9 L72.1,496.6 L72.6,496.4 L73.1,496.2 L73.6,496.0 L74.1,495.8 L74.6,495.6 L75.1,495.4 L75.6,495.2 L76.1,495.0 L76.6,494.7 L77.1,494.3 L77.6,493.8 L78.1,493.2 L78.6,492.5 L79.1,491.8 L79.6,491.0 L80.1,490.3 L80.6,489.7 L81.1,489.1 L81.6,488.6 L82.1,488.2 L82.6,487.8 L83.1,487.4 L83.6,487.0 L84.1,486.5 L84.6,485.9 L85.1,485.3 L85.6,484.7 L86.1,484.0 L86.6,483.4 L87.1,482.7 L87.6,482.1 L88.1,481.6 L88.6,481.2 L89.1,480.8 L89.6,480.6 L90.1,480.5 L90.6,480.4 L91.1,480.5 L91.6,480.8 L92.1,481.1 L92.6,481.5 L93.1,482.0 L93.6,482.5 L94.1,483.2 L94.6,483.8 L95.1,484.5 L95.6,485.3 L96.1,486.0 L96.6,486.7 L97.1,487.4 L97.6,488.2 L98.1,488.9 L98.6,489.5 L99.1,490.2 L99.6,490.8 L100.1,491.4 L100.6,492.0 L101.1,492.5 L101.6,493.0 L102.1,493.4 L102.6,493.9 L103.1,494.3 L103.6,494.7 L104.1,495.0 L104.6,495.4 L105.1,495.7 L105.6,495.9 L106.1,496.2 L106.6,496.4 L107.1,496.6 L107.6,496.8 L108.1,496.9 L108.6,497.0 L109.1,497.1 L109.6,497.1 L110.1,497.0 L110.6,497.0 L111.1,496.9 L111.6,496.7 L112.1,496.5 L112.6,496.3 L113.1,496.1 L113.6,495.9 L114.1,495.7 L114.6,495.5 L115.1,495.4 L115.6,495.2 L116.1,495.1 L116.6,495.0 L117.1,494.9 L117.6,494.8 L118.1,494.7 L118.6,494.6 L119.1,494.4 L119.6,494.2 L120.1,493.9 L120.6,493.5 L121.1,493.1 L121.6,492.5 L122.1,491.9 L122.6,491.1 L123.1,490.1 L123.6,489.1 L124.1,487.8 L124.6,486.5 L125.1,485.0 L125.6,483.3 L126.1,481.6 L126.6,479.7 L127.1,477.7 L127.6,475.6 L128.1,473.3 L128.6,470.9 L129.1,468.4 L129.6,465.8 L130.1,463.1 L130.6,460.2 L131.1,457.3 L131.6,454.2 L132.1,451.1 L132.6,447.8 L133.1,444.5 L133.6,441.2 L134.1,437.8 L134.6,434.4 L135.1,430.9 L135.6,427.5 L136.1,424.0 L136.6,420.7 L137.1,417.3 L137.6,414.1 L138.1,410.9 L138.6,407.9 L139.1,405.0 L139.6,402.2 L140.1,399.7 L140.6,397.3 L141.1,395.2 L141.6,393.3 L142.1,391.6 L142.6,390.3 L143.1,389.2 L143.6,388.4 L144.1,387.9 L144.6,387.7 L145.1,387.8 L145.6,388.2 L146.1,388.9 L146.6,390.0 L147.1,391.3 L147.6,392.9 L148.1,394.7 L148.6,396.9 L149.1,399.2 L149.6,401.7 L150.1,404.5 L150.6,407.4 L151.1,410.5 L151.6,413.6 L152.1,416.9 L152.6,420.3 L153.1,423.8 L153.6,427.3 L154.1,430.8 L154.6,434.4 L155.1,437.9 L155.6,441.4 L156.1,444.9 L156.6,448.3 L157.1,451.7 L157.6,455.0 L158.1,458.2 L158.6,461.3 L159.1,464.3 L159.6,467.2 L160.1,469.9 L160.6,472.6 L161.1,475.1 L161.6,477.5 L162.1,479.8 L162.6,482.0 L163.1,484.0 L163.6,485.9 L164.1,487.7 L164.6,489.4 L165.1,491.0 L165.6,492.4 L166.1,493.8 L166.6,495.0 L167.1,496.2 L167.6,497.2 L168.1,498.2 L168.6,499.1 L169.1,499.9 L169.6,500.7 L170.1,501.3 L170.6,501.9 L171.1,502.5 L171.6,503.0 L172.1,503.1 L172.6,503.5 L173.1,504.0 L173.6,504.5 L174.1,505.0 L174.6,505.4 L175.1,505.8 L175.6,506.1 L176.1,506.4 L176.6,506.5 L177.1,506.6 L177.6,506.6 L178.1,506.5 L178.6,506.5 L179.1,506.5 L179.6,506.5 L180.1,506.5 L180.6,506.6 L181.1,506.8 L181.6,507.0 L182.1,507.2 L182.6,507.4 L183.1,507.7 L183.6,507.8 L184.1,507.9 L184.6,508.0 L185.1,507.9 L185.6,507.8 L186.1,507.7 L186.6,507.6 L187.1,507.5 L187.6,507.4 L188.1,507.3 L188.6,507.4 L189.1,507.5 L189.6,507.6 L190.1,507.8 L190.6,508.0 L191.1,508.2 L191.6,508.3 L192.1,508.4 L192.6,508.5 L193.1,508.4 L193.6,508.4 L194.1,508.2 L194.6,508.1 L195.1,507.9 L195.6,507.8 L196.1,507.7 L196.6,507.7 L197.1,507.8 L197.6,507.9 L198.1,508.1 L198.6,508.3 L199.1,508.5 L199.6,508.6 L200.1,508.7 L200.6,508.8 L201.1,508.7 L201.6,508.7 L202.1,508.5 L202.6,508.4 L203.1,508.2 L203.6,508.1 L204.1,508.0 L204.6,508.0 L205.1,508.0 L205.6,508.1 L206.1,508.2 L206.6,508.4 L207.1,508.6 L207.6,508.8 L208.1,508.9 L208.6,508.9 L209.1,508.9 L209.6,508.9 L210.1,508.8 L210.6,508.6 L211.1,508.4" fill="none" stroke="#3a3a3a" stroke-width="1.00" stroke-linejoin="round" stroke-linecap="round" />
<path d="M22.1,502.9 L22.6,502.9 L23.1,502.8 L23.6,502.8 L24.1,502.8 L24.6,502.8 L25.1,502.8 L25.6,502.8 L26.1,502.8 L26.6,502.8 L27.1,502.8 L27.6,502.8 L28.1,502.8 L28.6,502.8 L29.1,502.7 L29.6,502.7 L30.1,502.7 L30.6,502.7 L31.1,502.7 L31.6,502.7 L32.1,502.7 L32.6,502.7 L33.1,502.7 L33.6,502.7 L34.1,502.7 L34.6,502.6 L35.1,502.6 L35.6,502.6 L36.1,502.6 L36.6,502.6 L37.1,502.6 L37.6,502.6 L38.1,502.6 L38.6,502.5 L39.1,502.5 L39.6,502.5 L40.1,502.5 L40.6,502.5 L41.1,502.5 L41.6,502.5 L42.1,502.4 L42.6,502.4 L43.1,502.4 L43.6,502.4 L44.1,502.4 L44.6,502.4 L45.1,502.3 L45.6,502.3 L46.1,502.3 L46.6,502.3 L47.1,502.3 L47.6,502.3 L48.1,502.2 L48.6,502.2 L49.1,502.2 L49.6,502.2 L50.1,502.1 L50.6,502.1 L51.1,502.1 L51.6,502.1 L52.1,502.0 L52.6,502.0 L53.1,502.0 L53.6,501.9 L54.1,501.9 L54.6,501.8 L55.1,501.8 L55.6,501.7 L56.1,501.6 L56.6,501.5 L57.1,501.3 L57.6,501.2 L58.1,501.0 L58.6,500.9 L59.1,500.7 L59.6,500.5 L60.1,500.3 L60.6,500.1 L61.1,499.9 L61.6,499.8 L62.1,499.7 L62.6,499.6 L63.1,499.6 L63.6,499.6 L64.1,499.6 L64.6,499.6 L65.1,499.6 L65.6,499.6 L66.1,499.5 L66.6,499.4 L67.1,499.2 L67.6,499.0 L68.1,498.8 L68.6,498.5 L69.1,498.2 L69.6,497.9 L70.1,497.6 L70.6,497.3 L71.1,496.9 L71.6,496.6 L72.1,496.3 L72.6,496.1 L73.1,495.9 L73.6,495.7 L74.1,495.5 L74.6,495.4 L75.1,495.2 L75.6,495.1 L76.1,495.0 L76.6,494.8 L77.1,494.6 L77.6,494.4 L78.1,494.1 L78.6,493.8 L79.1,493.4 L79.6,493.0 L80.1,492.5 L80.6,492.0 L81.1,491.4 L81.6,490.7 L82.1,490.1 L82.6,489.3 L83.1,488.6 L83.6,487.8 L84.1,487.0 L84.6,486.2 L85.1,485.4 L85.6,484.6 L86.1,483.9 L86.6,483.1 L87.1,482.5 L87.6,481.9 L88.1,481.3 L88.6,480.9 L89.1,480.5 L89.6,480.3 L90.1,480.2 L90.6,480.1 L91.1,480.2 L91.6,480.5 L92.1,480.8 L92.6,481.2 L93.1,481.7 L93.6,482.2 L94.1,482.9 L94.6,483.5 L95.1,484.2 L95.6,485.0 L96.1,485.7 L96.6,486.4 L97.1,487.1 L97.6,487.9 L98.1,488.5 L98.6,489.2 L99.1,489.9 L99.6,490.5 L100.1,491.0 L100.6,491.6 L101.1,492.1 L101.6,492.5 L102.1,493.0 L102.6,493.4 L103.1,493.7 L103.6,494.0 L104.1,494.3 L104.6,494.5 L105.1,494.7 L105.6,494.9 L106.1,495.0 L106.6,495.1 L107.1,495.2 L107.6,495.3 L108.1,495.3 L108.6,495.3 L109.1,495.3 L109.6,495.2 L110.1,495.2 L110.6,495.1 L111.1,495.0 L111.6,494.9 L112.1,494.7 L112.6,494.6 L113.1,494.4 L113.6,494.2 L114.1,494.0 L114.6,493.8 L115.1,493.6 L115.6,493.4 L116.1,493.1 L116.6,492.8 L117.1,492.5 L117.6,492.2 L118.1,491.9 L118.6,491.5 L119.1,491.1 L119.6,490.7 L120.1,490.3 L120.6,489.8 L121.1,489.3 L121.6,488.8 L122.1,488.2 L122.6,487.6 L123.1,486.9 L123.6,486.2 L124.1,485.5 L124.6,484.7 L125.1,483.8 L125.6,482.9 L126.1,481.9 L126.6,480.9 L127.1,479.7 L127.6,478.5 L128.1,477.2 L128.6,475.8 L129.1,474.3 L129.6,472.7 L130.1,470.9 L130.6,469.1 L131.1,467.1 L131.6,465.0 L132.1,462.8 L132.6,460.4 L133.1,457.9 L133.6,455.2 L134.1,452.4 L134.6,449.4 L135.1,446.3 L135.6,443.1 L136.1,439.7 L136.6,436.1 L137.1,432.5 L137.6,428.7 L138.1,424.9 L138.6,421.1 L139.1,417.2 L139.6,413.4 L140.1,409.7 L140.6,406.2 L141.1,402.9 L141.6,399.9 L142.1,397.2 L142.6,395.0 L143.1,393.3 L143.6,392.1 L144.1,391.5 L144.6,391.5 L145.1,392.1 L145.6,393.3 L146.1,395.0 L146.6,397.2 L147.1,399.9 L147.6,403.0 L148.1,406.4 L148.6,410.0 L149.1,413.8 L149.6,417.7 L150.1,421.6 L150.6,425.6 L151.1,429.5 L151.6,433.4 L152.1,437.2 L152.6,440.8 L153.1,444.4 L153.6,447.8 L154.1,451.0 L154.6,454.1 L155.1,457.1 L155.6,459.9 L156.1,462.6 L156.6,465.1 L157.1,467.4 L157.6,469.7 L158.1,471.8 L158.6,473.7 L159.1,475.6 L159.6,477.3 L160.1,479.0 L160.6,480.5 L161.1,481.9 L161.6,483.2 L162.1,484.5 L162.6,485.7 L163.1,486.8 L163.6,487.8 L164.1,488.7 L164.6,489.6 L165.1,490.5 L165.6,491.3 L166.1,492.0 L166.6,492.7 L167.1,493.4 L167.6,494.0 L168.1,494.6 L168.6,495.1 L169.1,495.6 L169.6,496.1 L170.1,496.6 L170.6,497.0 L171.1,497.4 L171.6,497.8 L172.1,498.2 L172.6,498.6 L173.1,498.9 L173.6,499.2 L174.1,499.5 L174.6,499.8 L175.1,500.1 L175.6,500.4 L176.1,500.7 L176.6,500.9 L177.1,501.1 L177.6,501.4 L178.1,501.6 L178.6,501.8 L179.1,502.0 L179.6,502.2 L180.1,502.4 L180.6,502.6 L181.1,502.7 L181.6,502.9 L182.1,503.1 L182.6,503.2 L183.1,503.4 L183.6,503.5 L184.1,503.7 L184.6,503.8 L185.1,503.9 L185.6,504.1 L186.1,504.2 L186.6,504.3 L187.1,504.4 L187.6,504.5 L188.1,504.6 L188.6,504.7 L189.1,504.8 L189.6,504.9 L190.1,505.0 L190.6,505.1 L191.1,505.2 L191.6,505.3 L192.1,505.4 L192.6,505.5 L193.1,505.5 L193.6,505.6 L194.1,505.7 L194.6,505.8 L195.1,505.8 L195.6,505.9 L196.1,506.0 L196.6,506.0 L197.1,506.1 L197.6,506.1 L198.1,506.2 L198.6,506.3 L199.1,506.3 L199.6,506.4 L200.1,506.4 L200.6,506.5 L201.1,506.5 L201.6,506.6 L202.1,506.6 L202.6,506.7 L203.1,506.7 L203.6,506.7 L204.1,506.8 L204.6,506.8 L205.1,506.9 L205.6,506.9 L206.1,506.9 L206.6,507.0 L207.1,507.0 L207.6,507.1 L208.1,507.1 L208.6,507.1 L209.1,507.2 L209.6,507.2 L210.1,507.2 L210.6,507.3 L211.1,507.3" fill="none" stroke="#f02a2a" stroke-width="1.00" stroke-linejoin="round" stroke-linecap="round" />
<path d="M22.1,503.6 L22.6,503.6 L23.1,503.6 L23.6,503.6 L24.1,503.6 L24.6,503.6 L25.1,503.6 L25.6,503.6 L26.1,503.6 L26.6,503.6 L27.1,503.6 L27.6,503.6 L28.1,503.6 L28.6,503.5 L29.1,503.5 L29.6,503.5 L30.1,503.5 L30.6,503.5 L31.1,503.5 L31.6,503.5 L32.1,503.5 L32.6,503.5 L33.1,503.5 L33.6,503.5 L34.1,503.5 L34.6,503.5 L35.1,503.5 L35.6,503.5 L36.1,503.5 L36.6,503.5 L37.1,503.4 L37.6,503.4 L38.1,503.4 L38.6,503.4 L39.1,503.4 L39.6,503.4 L40.1,503.4 L40.6,503.4 L41.1,503.4 L41.6,503.4 L42.1,503.4 L42.6,503.4 L43.1,503.4 L43.6,503.3 L44.1,503.3 L44.6,503.3 L45.1,503.3 L45.6,503.3 L46.1,503.3 L46.6,503.3 L47.1,503.3 L47.6,503.3 L48.1,503.3 L48.6,503.3 L49.1,503.2 L49.6,503.2 L50.1,503.2 L50.6,503.2 L51.1,503.2 L51.6,503.2 L52.1,503.2 L52.6,503.2 L53.1,503.2 L53.6,503.1 L54.1,503.1 L54.6,503.1 L55.1,503.1 L55.6,503.1 L56.1,503.1 L56.6,503.1 L57.1,503.1 L57.6,503.1 L58.1,503.0 L58.6,503.0 L59.1,503.0 L59.6,503.0 L60.1,503.0 L60.6,503.0 L61.1,503.0 L61.6,502.9 L62.1,502.9 L62.6,502.9 L63.1,502.9 L63.6,502.9 L64.1,502.9 L64.6,502.8 L65.1,502.8 L65.6,502.8 L66.1,502.8 L66.6,502.8 L67.1,502.8 L67.6,502.7 L68.1,502.7 L68.6,502.7 L69.1,502.7 L69.6,502.7 L70.1,502.6 L70.6,502.6 L71.1,502.6 L71.6,502.6 L72.1,502.6 L72.6,502.5 L73.1,502.5 L73.6,502.5 L74.1,502.5 L74.6,502.4 L75.1,502.4 L75.6,502.4 L76.1,502.4 L76.6,502.3 L77.1,502.3 L77.6,502.3 L78.1,502.3 L78.6,502.2 L79.1,502.2 L79.6,502.2 L80.1,502.1 L80.6,502.1 L81.1,502.1 L81.6,502.0 L82.1,502.0 L82.6,502.0 L83.1,501.9 L83.6,501.9 L84.1,501.9 L84.6,501.8 L85.1,501.8 L85.6,501.7 L86.1,501.7 L86.6,501.7 L87.1,501.6 L87.6,501.6 L88.1,501.5 L88.6,501.5 L89.1,501.4 L89.6,501.4 L90.1,501.3 L90.6,501.3 L91.1,501.2 L91.6,501.2 L92.1,501.1 L92.6,501.1 L93.1,501.0 L93.6,501.0 L94.1,500.9 L94.6,500.8 L95.1,500.8 L95.6,500.7 L96.1,500.6 L96.6,500.6 L97.1,500.5 L97.6,500.4 L98.1,500.3 L98.6,500.3 L99.1,500.2 L99.6,500.1 L100.1,500.0 L100.6,499.9 L101.1,499.8 L101.6,499.7 L102.1,499.6 L102.6,499.5 L103.1,499.4 L103.6,499.3 L104.1,499.2 L104.6,499.1 L105.1,498.9 L105.6,498.8 L106.1,498.7 L106.6,498.6 L107.1,498.4 L107.6,498.3 L108.1,498.1 L108.6,498.0 L109.1,497.8 L109.6,497.6 L110.1,497.4 L110.6,497.3 L111.1,497.1 L111.6,496.9 L112.1,496.7 L112.6,496.4 L113.1,496.2 L113.6,496.0 L114.1,495.7 L114.6,495.5 L115.1,495.2 L115.6,494.9 L116.1,494.6 L116.6,494.3 L117.1,493.9 L117.6,493.6 L118.1,493.2 L118.6,492.8 L119.1,492.4 L119.6,492.0 L120.1,491.5 L120.6,491.0 L121.1,490.5 L121.6,489.9 L122.1,489.3 L122.6,488.7 L123.1,488.0 L123.6,487.3 L124.1,486.5 L124.6,485.7 L125.1,484.8 L125.6,483.9 L126.1,482.8 L126.6,481.8 L127.1,480.6 L127.6,479.3 L128.1,478.0 L128.6,476.6 L129.1,475.0 L129.6,473.4 L130.1,471.6 L130.6,469.8 L131.1,467.8 L131.6,465.7 L132.1,463.4 L132.6,461.0 L133.1,458.5 L133.6,455.8 L134.1,452.9 L134.6,449.9 L135.1,446.8 L135.6,443.5 L136.1,440.1 L136.6,436.6 L137.1,432.9 L137.6,429.1 L138.1,425.3 L138.6,421.5 L139.1,417.6 L139.6,413.8 L140.1,410.1 L140.6,406.5 L141.1,403.2 L141.6,400.2 L142.1,397.5 L142.6,395.3 L143.1,393.5 L143.6,392.4 L144.1,391.7 L144.6,391.7 L145.1,392.3 L145.6,393.5 L146.1,395.2 L146.6,397.5 L147.1,400.2 L147.6,403.2 L148.1,406.6 L148.6,410.2 L149.1,414.0 L149.6,417.9 L150.1,421.8 L150.6,425.8 L151.1,429.7 L151.6,433.6 L152.1,437.3 L152.6,441.0 L153.1,444.5 L153.6,447.9 L154.1,451.2 L154.6,454.3 L155.1,457.3 L155.6,460.1 L156.1,462.7 L156.6,465.2 L157.1,467.6 L157.6,469.8 L158.1,471.9 L158.6,473.9 L159.1,475.7 L159.6,477.5 L160.1,479.1 L160.6,480.6 L161.1,482.0 L161.6,483.4 L162.1,484.6 L162.6,485.8 L163.1,486.9 L163.6,487.9 L164.1,488.9 L164.6,489.8 L165.1,490.6 L165.6,491.4 L166.1,492.1 L166.6,492.8 L167.1,493.5 L167.6,494.1 L168.1,494.7 L168.6,495.2 L169.1,495.7 L169.6,496.2 L170.1,496.7 L170.6,497.1 L171.1,497.5 L171.6,497.9 L172.1,498.3 L172.6,498.7 L173.1,499.0 L173.6,499.3 L174.1,499.6 L174.6,499.9 L175.1,500.2 L175.6,500.5 L176.1,500.8 L176.6,501.0 L177.1,501.2 L177.6,501.5 L178.1,501.7 L178.6,501.9 L179.1,502.1 L179.6,502.3 L180.1,502.5 L180.6,502.7 L181.1,502.8 L181.6,503.0 L182.1,503.2 L182.6,503.3 L183.1,503.5 L183.6,503.6 L184.1,503.7 L184.6,503.9 L185.1,504.0 L185.6,504.1 L186.1,504.3 L186.6,504.4 L187.1,504.5 L187.6,504.6 L188.1,504.7 L188.6,504.8 L189.1,504.9 L189.6,505.0 L190.1,505.1 L190.6,505.2 L191.1,505.3 L191.6,505.4 L192.1,505.4 L192.6,505.5 L193.1,505.6 L193.6,505.7 L194.1,505.7 L194.6,505.8 L195.1,505.9 L195.6,505.9 L196.1,506.0 L196.6,506.1 L197.1,506.1 L197.6,506.2 L198.1,506.3 L198.6,506.3 L199.1,506.4 L199.6,506.4 L200.1,506.5 L200.6,506.5 L201.1,506.6 L201.6,506.6 L202.1,506.7 L202.6,506.7 L203.1,506.8 L203.6,506.8 L204.1,506.8 L204.6,506.9 L205.1,506.9 L205.6,507.0 L206.1,507.0 L206.6,507.0 L207.1,507.1 L207.6,507.1 L208.1,507.1 L208.6,507.2 L209.1,507.2 L209.6,507.2 L210.1,507.3 L210.6,507.3 L211.1,507.3" fill="none" stroke="#20a860" stroke-width="1.00" stroke-linejoin="round" stroke-linecap="round" />
<rect x="239.8" y="372.6" width="188.6" height="148.2" fill="none" stroke="#3a3a3a" stroke-width="1.1"/>
<path d="M239.8,520.8 v2.2 M255.5,520.8 v1.3 M271.2,520.8 v2.2 M286.9,520.8 v1.3 M302.7,520.8 v2.2 M318.4,520.8 v1.3 M334.1,520.8 v2.2 M349.8,520.8 v1.3 M365.5,520.8 v2.2 M381.2,520.8 v1.3 M397.0,520.8 v2.2 M412.7,520.8 v1.3 M428.4,520.8 v2.2 " stroke="#3a3a3a" stroke-width="1.1" fill="none"/>
<text class="s" x="239.8" y="531.4" font-size="8.00" text-anchor="middle" font-weight="bold" font-family="Liberation Serif" >538</text>
<text class="s" x="271.2" y="531.4" font-size="8.00" text-anchor="middle" font-weight="bold" font-family="Liberation Serif" >536</text>
<text class="s" x="302.7" y="531.4" font-size="8.00" text-anchor="middle" font-weight="bold" font-family="Liberation Serif" >534</text>
<text class="s" x="334.1" y="531.4" font-size="8.00" text-anchor="middle" font-weight="bold" font-family="Liberation Serif" >532</text>
<text class="s" x="365.5" y="531.4" font-size="8.00" text-anchor="middle" font-weight="bold" font-family="Liberation Serif" >530</text>
<text class="s" x="397.0" y="531.4" font-size="8.00" text-anchor="middle" font-weight="bold" font-family="Liberation Serif" >528</text>
<text class="s" x="428.4" y="531.4" font-size="8.00" text-anchor="middle" font-weight="bold" font-family="Liberation Serif" >526</text>
<text class="s" x="334.5" y="544.4" font-size="8.85" text-anchor="middle" font-weight="bold" font-family="Liberation Serif" >Binding energy(eV)</text>
<text class="s" x="0" y="0" font-size="8.60" text-anchor="middle" font-weight="bold" font-family="Liberation Serif" transform="translate(228.8,441.7) rotate(-90)">Intensity(a.u.)</text>
<text x="0" y="0" font-size="25.2" font-weight="bold" font-family="Liberation Sans" stroke="#000" stroke-width="0.35" style="fill:#000" transform="translate(247.0,394.5) scale(0.980,1)">e</text>
<text class="s" x="407.5" y="383.8" font-size="8.20" text-anchor="start" font-weight="bold" font-family="Liberation Serif" >O 1s</text>
<text class="s" x="336.5" y="388.0" font-size="7.90" text-anchor="start" font-weight="bold" font-family="Liberation Serif" >531.1 eV</text>
<text class="s" x="290.6" y="463.8" font-size="7.90" text-anchor="start" font-weight="bold" font-family="Liberation Serif" >532.1 eV</text>
<path d="M311.9,469.3 L322.5,482.2" stroke="#111" stroke-width="1.1"/>
<path d="M325.2,485.6 L319.6,482.6 L323.6,479.4 Z" fill="#111"/>
<path d="M240.3,503.5 L240.8,503.5 L241.3,503.5 L241.8,503.5 L242.3,503.5 L242.8,503.5 L243.3,503.5 L243.8,503.5 L244.3,503.5 L244.8,503.5 L245.3,503.5 L245.8,503.5 L246.3,503.5 L246.8,503.5 L247.3,503.5 L247.8,503.5 L248.3,503.5 L248.8,503.5 L249.3,503.5 L249.8,503.5 L250.3,503.5 L250.8,503.5 L251.3,503.5 L251.8,503.5 L252.3,503.5 L252.8,503.5 L253.3,503.5 L253.8,503.5 L254.3,503.5 L254.8,503.5 L255.3,503.5 L255.8,503.5 L256.3,503.5 L256.8,503.5 L257.3,503.5 L257.8,503.5 L258.3,503.5 L258.8,503.5 L259.3,503.5 L259.8,503.5 L260.3,503.5 L260.8,503.5 L261.3,503.5 L261.8,503.5 L262.3,503.5 L262.8,503.5 L263.3,503.5 L263.8,503.5 L264.3,503.5 L264.8,503.5 L265.3,503.5 L265.8,503.5 L266.3,503.5 L266.8,503.5 L267.3,503.5 L267.8,503.5 L268.3,503.5 L268.8,503.5 L269.3,503.5 L269.8,503.5 L270.3,503.5 L270.8,503.5 L271.3,503.5 L271.8,503.5 L272.3,503.5 L272.8,503.5 L273.3,503.5 L273.8,503.5 L274.3,503.5 L274.8,503.5 L275.3,503.5 L275.8,503.5 L276.3,503.5 L276.8,503.5 L277.3,503.5 L277.8,503.5 L278.3,503.5 L278.8,503.5 L279.3,503.5 L279.8,503.5 L280.3,503.5 L280.8,503.5 L281.3,503.5 L281.8,503.5 L282.3,503.5 L282.8,503.5 L283.3,503.5 L283.8,503.5 L284.3,503.5 L284.8,503.5 L285.3,503.5 L285.8,503.5 L286.3,503.5 L286.8,503.5 L287.3,503.5 L287.8,503.5 L288.3,503.5 L288.8,503.5 L289.3,503.5 L289.8,503.5 L290.3,503.5 L290.8,503.5 L291.3,503.5 L291.8,503.5 L292.3,503.5 L292.8,503.5 L293.3,503.5 L293.8,503.5 L294.3,503.5 L294.8,503.5 L295.3,503.6 L295.8,503.6 L296.3,503.6 L296.8,503.6 L297.3,503.6 L297.8,503.6 L298.3,503.6 L298.8,503.6 L299.3,503.6 L299.8,503.6 L300.3,503.6 L300.8,503.6 L301.3,503.6 L301.8,503.6 L302.3,503.6 L302.8,503.6 L303.3,503.6 L303.8,503.6 L304.3,503.6 L304.8,503.6 L305.3,503.6 L305.8,503.6 L306.3,503.6 L306.8,503.6 L307.3,503.6 L307.8,503.6 L308.3,503.7 L308.8,503.7 L309.3,503.7 L309.8,503.7 L310.3,503.7 L310.8,503.7 L311.3,503.7 L311.8,503.7 L312.3,503.7 L312.8,503.7 L313.3,503.7 L313.8,503.7 L314.3,503.7 L314.8,503.8 L315.3,503.8 L315.8,503.8 L316.3,503.8 L316.8,503.8 L317.3,503.8 L317.8,503.8 L318.3,503.8 L318.8,503.8 L319.3,503.9 L319.8,503.9 L320.3,503.9 L320.8,503.9 L321.3,503.9 L321.8,503.9 L322.3,504.0 L322.8,504.0 L323.3,504.0 L323.8,504.0 L324.3,504.0 L324.8,504.0 L325.3,504.1 L325.8,504.1 L326.3,504.1 L326.8,504.1 L327.3,504.2 L327.8,504.2 L328.3,504.2 L328.8,504.2 L329.3,504.3 L329.8,504.3 L330.3,504.3 L330.8,504.3 L331.3,504.4 L331.8,504.4 L332.3,504.4 L332.8,504.5 L333.3,504.5 L333.8,504.5 L334.3,504.6 L334.8,504.6 L335.3,504.6 L335.8,504.7 L336.3,504.7 L336.8,504.7 L337.3,504.8 L337.8,504.8 L338.3,504.9 L338.8,504.9 L339.3,505.0 L339.8,505.0 L340.3,505.0 L340.8,505.1 L341.3,505.1 L341.8,505.2 L342.3,505.2 L342.8,505.3 L343.3,505.3 L343.8,505.4 L344.3,505.4 L344.8,505.5 L345.3,505.5 L345.8,505.6 L346.3,505.6 L346.8,505.7 L347.3,505.7 L347.8,505.8 L348.3,505.8 L348.8,505.9 L349.3,505.9 L349.8,506.0 L350.3,506.0 L350.8,506.1 L351.3,506.1 L351.8,506.2 L352.3,506.2 L352.8,506.3 L353.3,506.3 L353.8,506.4 L354.3,506.4 L354.8,506.5 L355.3,506.5 L355.8,506.6 L356.3,506.6 L356.8,506.7 L357.3,506.7 L357.8,506.8 L358.3,506.8 L358.8,506.9 L359.3,506.9 L359.8,507.0 L360.3,507.0 L360.8,507.1 L361.3,507.1 L361.8,507.1 L362.3,507.2 L362.8,507.2 L363.3,507.3 L363.8,507.3 L364.3,507.3 L364.8,507.4 L365.3,507.4 L365.8,507.4 L366.3,507.5 L366.8,507.5 L367.3,507.5 L367.8,507.6 L368.3,507.6 L368.8,507.6 L369.3,507.7 L369.8,507.7 L370.3,507.7 L370.8,507.7 L371.3,507.8 L371.8,507.8 L372.3,507.8 L372.8,507.8 L373.3,507.9 L373.8,507.9 L374.3,507.9 L374.8,507.9 L375.3,508.0 L375.8,508.0 L376.3,508.0 L376.8,508.0 L377.3,508.0 L377.8,508.1 L378.3,508.1 L378.8,508.1 L379.3,508.1 L379.8,508.1 L380.3,508.1 L380.8,508.1 L381.3,508.2 L381.8,508.2 L382.3,508.2 L382.8,508.2 L383.3,508.2 L383.8,508.2 L384.3,508.2 L384.8,508.2 L385.3,508.2 L385.8,508.3 L386.3,508.3 L386.8,508.3 L387.3,508.3 L387.8,508.3 L388.3,508.3 L388.8,508.3 L389.3,508.3 L389.8,508.3 L390.3,508.3 L390.8,508.3 L391.3,508.3 L391.8,508.4 L392.3,508.4 L392.8,508.4 L393.3,508.4 L393.8,508.4 L394.3,508.4 L394.8,508.4 L395.3,508.4 L395.8,508.4 L396.3,508.4 L396.8,508.4 L397.3,508.4 L397.8,508.4 L398.3,508.4 L398.8,508.4 L399.3,508.4 L399.8,508.4 L400.3,508.4 L400.8,508.4 L401.3,508.4 L401.8,508.4 L402.3,508.4 L402.8,508.4 L403.3,508.4 L403.8,508.4 L404.3,508.4 L404.8,508.4 L405.3,508.5 L405.8,508.5 L406.3,508.5 L406.8,508.5 L407.3,508.5 L407.8,508.5 L408.3,508.5 L408.8,508.5 L409.3,508.5 L409.8,508.5 L410.3,508.5 L410.8,508.5 L411.3,508.5 L411.8,508.5 L412.3,508.5 L412.8,508.5 L413.3,508.5 L413.8,508.5 L414.3,508.5 L414.8,508.5 L415.3,508.5 L415.8,508.5 L416.3,508.5 L416.8,508.5 L417.3,508.5 L417.8,508.5 L418.3,508.5 L418.8,508.5 L419.3,508.5 L419.8,508.5 L420.3,508.5 L420.8,508.5 L421.3,508.5 L421.8,508.5 L422.3,508.5 L422.8,508.5 L423.3,508.5 L423.8,508.5 L424.3,508.5 L424.8,508.5 L425.3,508.5 L425.8,508.5 L426.3,508.5 L426.8,508.5 L427.3,508.5 L427.8,508.5" fill="none" stroke="#3a6ee0" stroke-width="1.00" stroke-linejoin="round" stroke-linecap="round" />
<path d="M240.3,503.0 L240.8,503.0 L241.3,503.0 L241.8,503.0 L242.3,503.0 L242.8,503.0 L243.3,503.0 L243.8,503.0 L244.3,503.0 L244.8,503.0 L245.3,503.0 L245.8,503.0 L246.3,503.0 L246.8,503.0 L247.3,503.0 L247.8,503.0 L248.3,503.0 L248.8,503.0 L249.3,503.0 L249.8,503.0 L250.3,503.0 L250.8,503.0 L251.3,503.0 L251.8,503.0 L252.3,503.0 L252.8,503.0 L253.3,503.0 L253.8,503.0 L254.3,503.0 L254.8,503.0 L255.3,503.0 L255.8,503.0 L256.3,503.0 L256.8,503.0 L257.3,503.0 L257.8,503.0 L258.3,503.0 L258.8,503.0 L259.3,503.0 L259.8,503.0 L260.3,503.0 L260.8,503.0 L261.3,503.0 L261.8,503.0 L262.3,503.0 L262.8,503.0 L263.3,503.0 L263.8,503.0 L264.3,503.0 L264.8,503.0 L265.3,503.0 L265.8,503.0 L266.3,503.0 L266.8,503.0 L267.3,503.0 L267.8,503.0 L268.3,503.0 L268.8,503.0 L269.3,503.0 L269.8,503.0 L270.3,503.0 L270.8,503.0 L271.3,503.0 L271.8,503.0 L272.3,503.0 L272.8,503.0 L273.3,503.0 L273.8,503.0 L274.3,503.0 L274.8,503.0 L275.3,503.0 L275.8,503.0 L276.3,503.0 L276.8,503.0 L277.3,503.0 L277.8,503.0 L278.3,503.0 L278.8,503.0 L279.3,503.0 L279.8,503.0 L280.3,503.0 L280.8,503.0 L281.3,503.0 L281.8,503.0 L282.3,503.0 L282.8,502.9 L283.3,502.9 L283.8,502.9 L284.3,502.9 L284.8,502.9 L285.3,502.9 L285.8,502.9 L286.3,502.9 L286.8,502.9 L287.3,502.9 L287.8,502.9 L288.3,502.9 L288.8,502.9 L289.3,502.9 L289.8,502.9 L290.3,502.9 L290.8,502.9 L291.3,502.9 L291.8,502.9 L292.3,502.9 L292.8,502.9 L293.3,502.9 L293.8,502.9 L294.3,502.9 L294.8,502.9 L295.3,502.9 L295.8,502.8 L296.3,502.8 L296.8,502.8 L297.3,502.8 L297.8,502.8 L298.3,502.8 L298.8,502.8 L299.3,502.8 L299.8,502.8 L300.3,502.8 L300.8,502.7 L301.3,502.7 L301.8,502.7 L302.3,502.7 L302.8,502.7 L303.3,502.6 L303.8,502.6 L304.3,502.6 L304.8,502.5 L305.3,502.5 L305.8,502.4 L306.3,502.4 L306.8,502.3 L307.3,502.3 L307.8,502.2 L308.3,502.1 L308.8,502.0 L309.3,501.9 L309.8,501.8 L310.3,501.7 L310.8,501.6 L311.3,501.4 L311.8,501.3 L312.3,501.1 L312.8,500.9 L313.3,500.7 L313.8,500.5 L314.3,500.3 L314.8,500.0 L315.3,499.8 L315.8,499.5 L316.3,499.2 L316.8,498.9 L317.3,498.6 L317.8,498.2 L318.3,497.8 L318.8,497.5 L319.3,497.1 L319.8,496.6 L320.3,496.2 L320.8,495.8 L321.3,495.3 L321.8,494.8 L322.3,494.4 L322.8,493.9 L323.3,493.4 L323.8,492.9 L324.3,492.4 L324.8,491.9 L325.3,491.5 L325.8,491.0 L326.3,490.5 L326.8,490.1 L327.3,489.6 L327.8,489.2 L328.3,488.9 L328.8,488.5 L329.3,488.2 L329.8,487.9 L330.3,487.6 L330.8,487.4 L331.3,487.3 L331.8,487.2 L332.3,487.1 L332.8,487.1 L333.3,487.1 L333.8,487.2 L334.3,487.3 L334.8,487.5 L335.3,487.7 L335.8,488.0 L336.3,488.3 L336.8,488.6 L337.3,489.0 L337.8,489.4 L338.3,489.8 L338.8,490.3 L339.3,490.8 L339.8,491.3 L340.3,491.8 L340.8,492.4 L341.3,492.9 L341.8,493.5 L342.3,494.0 L342.8,494.6 L343.3,495.1 L343.8,495.7 L344.3,496.2 L344.8,496.8 L345.3,497.3 L345.8,497.8 L346.3,498.3 L346.8,498.8 L347.3,499.2 L347.8,499.7 L348.3,500.1 L348.8,500.6 L349.3,501.0 L349.8,501.3 L350.3,501.7 L350.8,502.0 L351.3,502.4 L351.8,502.7 L352.3,503.0 L352.8,503.2 L353.3,503.5 L353.8,503.8 L354.3,504.0 L354.8,504.2 L355.3,504.4 L355.8,504.6 L356.3,504.8 L356.8,504.9 L357.3,505.1 L357.8,505.2 L358.3,505.4 L358.8,505.5 L359.3,505.6 L359.8,505.7 L360.3,505.8 L360.8,505.9 L361.3,506.0 L361.8,506.1 L362.3,506.2 L362.8,506.2 L363.3,506.3 L363.8,506.4 L364.3,506.4 L364.8,506.5 L365.3,506.6 L365.8,506.6 L366.3,506.7 L366.8,506.7 L367.3,506.8 L367.8,506.8 L368.3,506.9 L368.8,506.9 L369.3,506.9 L369.8,507.0 L370.3,507.0 L370.8,507.1 L371.3,507.1 L371.8,507.1 L372.3,507.2 L372.8,507.2 L373.3,507.2 L373.8,507.2 L374.3,507.3 L374.8,507.3 L375.3,507.3 L375.8,507.3 L376.3,507.4 L376.8,507.4 L377.3,507.4 L377.8,507.4 L378.3,507.5 L378.8,507.5 L379.3,507.5 L379.8,507.5 L380.3,507.5 L380.8,507.6 L381.3,507.6 L381.8,507.6 L382.3,507.6 L382.8,507.6 L383.3,507.6 L383.8,507.7 L384.3,507.7 L384.8,507.7 L385.3,507.7 L385.8,507.7 L386.3,507.7 L386.8,507.7 L387.3,507.7 L387.8,507.8 L388.3,507.8 L388.8,507.8 L389.3,507.8 L389.8,507.8 L390.3,507.8 L390.8,507.8 L391.3,507.8 L391.8,507.8 L392.3,507.8 L392.8,507.8 L393.3,507.8 L393.8,507.9 L394.3,507.9 L394.8,507.9 L395.3,507.9 L395.8,507.9 L396.3,507.9 L396.8,507.9 L397.3,507.9 L397.8,507.9 L398.3,507.9 L398.8,507.9 L399.3,507.9 L399.8,507.9 L400.3,507.9 L400.8,507.9 L401.3,507.9 L401.8,507.9 L402.3,507.9 L402.8,507.9 L403.3,508.0 L403.8,508.0 L404.3,508.0 L404.8,508.0 L405.3,508.0 L405.8,508.0 L406.3,508.0 L406.8,508.0 L407.3,508.0 L407.8,508.0 L408.3,508.0 L408.8,508.0 L409.3,508.0 L409.8,508.0 L410.3,508.0 L410.8,508.0 L411.3,508.0 L411.8,508.0 L412.3,508.0 L412.8,508.0 L413.3,508.0 L413.8,508.0 L414.3,508.0 L414.8,508.0 L415.3,508.0 L415.8,508.0 L416.3,508.0 L416.8,508.0 L417.3,508.0 L417.8,508.0 L418.3,508.0 L418.8,508.0 L419.3,508.0 L419.8,508.0 L420.3,508.0 L420.8,508.0 L421.3,508.0 L421.8,508.0 L422.3,508.0 L422.8,508.0 L423.3,508.0 L423.8,508.0 L424.3,508.0 L424.8,508.0 L425.3,508.0 L425.8,508.0 L426.3,508.0 L426.8,508.0 L427.3,508.0 L427.8,508.0" fill="none" stroke="#b468e8" stroke-width="1.00" stroke-linejoin="round" stroke-linecap="round" />
<path d="M240.3,502.5 L240.8,502.5 L241.3,502.5 L241.8,502.5 L242.3,502.4 L242.8,502.4 L243.3,502.4 L243.8,502.4 L244.3,502.4 L244.8,502.4 L245.3,502.4 L245.8,502.4 L246.3,502.4 L246.8,502.4 L247.3,502.3 L247.8,502.3 L248.3,502.3 L248.8,502.3 L249.3,502.3 L249.8,502.3 L250.3,502.3 L250.8,502.3 L251.3,502.2 L251.8,502.2 L252.3,502.2 L252.8,502.2 L253.3,502.2 L253.8,502.2 L254.3,502.2 L254.8,502.2 L255.3,502.1 L255.8,502.1 L256.3,502.1 L256.8,502.1 L257.3,502.1 L257.8,502.1 L258.3,502.0 L258.8,502.0 L259.3,502.0 L259.8,502.0 L260.3,502.0 L260.8,502.0 L261.3,501.9 L261.8,501.9 L262.3,501.9 L262.8,501.9 L263.3,501.9 L263.8,501.9 L264.3,501.8 L264.8,501.8 L265.3,501.8 L265.8,501.8 L266.3,501.8 L266.8,501.7 L267.3,501.7 L267.8,501.7 L268.3,501.7 L268.8,501.6 L269.3,501.6 L269.8,501.6 L270.3,501.6 L270.8,501.6 L271.3,501.5 L271.8,501.5 L272.3,501.5 L272.8,501.5 L273.3,501.4 L273.8,501.4 L274.3,501.4 L274.8,501.3 L275.3,501.3 L275.8,501.3 L276.3,501.3 L276.8,501.2 L277.3,501.2 L277.8,501.2 L278.3,501.1 L278.8,501.1 L279.3,501.1 L279.8,501.0 L280.3,501.0 L280.8,501.0 L281.3,500.9 L281.8,500.9 L282.3,500.8 L282.8,500.8 L283.3,500.8 L283.8,500.7 L284.3,500.7 L284.8,500.6 L285.3,500.6 L285.8,500.6 L286.3,500.5 L286.8,500.5 L287.3,500.4 L287.8,500.4 L288.3,500.3 L288.8,500.3 L289.3,500.2 L289.8,500.2 L290.3,500.1 L290.8,500.1 L291.3,500.0 L291.8,499.9 L292.3,499.9 L292.8,499.8 L293.3,499.8 L293.8,499.7 L294.3,499.6 L294.8,499.6 L295.3,499.5 L295.8,499.4 L296.3,499.3 L296.8,499.3 L297.3,499.2 L297.8,499.1 L298.3,499.0 L298.8,498.9 L299.3,498.9 L299.8,498.8 L300.3,498.7 L300.8,498.6 L301.3,498.5 L301.8,498.4 L302.3,498.3 L302.8,498.2 L303.3,498.1 L303.8,498.0 L304.3,497.8 L304.8,497.7 L305.3,497.6 L305.8,497.5 L306.3,497.3 L306.8,497.2 L307.3,497.1 L307.8,496.9 L308.3,496.8 L308.8,496.6 L309.3,496.4 L309.8,496.3 L310.3,496.1 L310.8,495.9 L311.3,495.7 L311.8,495.5 L312.3,495.3 L312.8,495.1 L313.3,494.9 L313.8,494.7 L314.3,494.4 L314.8,494.2 L315.3,493.9 L315.8,493.7 L316.3,493.4 L316.8,493.1 L317.3,492.8 L317.8,492.4 L318.3,492.1 L318.8,491.7 L319.3,491.3 L319.8,490.9 L320.3,490.5 L320.8,490.1 L321.3,489.6 L321.8,489.1 L322.3,488.6 L322.8,488.0 L323.3,487.4 L323.8,486.8 L324.3,486.1 L324.8,485.4 L325.3,484.7 L325.8,483.9 L326.3,483.0 L326.8,482.2 L327.3,481.2 L327.8,480.2 L328.3,479.2 L328.8,478.1 L329.3,476.9 L329.8,475.6 L330.3,474.3 L330.8,472.9 L331.3,471.5 L331.8,469.9 L332.3,468.3 L332.8,466.6 L333.3,464.8 L333.8,462.9 L334.3,460.9 L334.8,458.9 L335.3,456.7 L335.8,454.5 L336.3,452.2 L336.8,449.8 L337.3,447.3 L337.8,444.7 L338.3,442.0 L338.8,439.3 L339.3,436.5 L339.8,433.6 L340.3,430.7 L340.8,427.8 L341.3,424.9 L341.8,422.0 L342.3,419.1 L342.8,416.3 L343.3,413.5 L343.8,410.9 L344.3,408.5 L344.8,406.2 L345.3,404.1 L345.8,402.3 L346.3,400.7 L346.8,399.5 L347.3,398.6 L347.8,398.0 L348.3,397.8 L348.8,398.0 L349.3,398.5 L349.8,399.4 L350.3,400.6 L350.8,402.1 L351.3,403.9 L351.8,406.0 L352.3,408.3 L352.8,410.8 L353.3,413.5 L353.8,416.3 L354.3,419.2 L354.8,422.1 L355.3,425.1 L355.8,428.1 L356.3,431.2 L356.8,434.1 L357.3,437.1 L357.8,440.0 L358.3,442.9 L358.8,445.6 L359.3,448.3 L359.8,451.0 L360.3,453.5 L360.8,455.9 L361.3,458.3 L361.8,460.6 L362.3,462.7 L362.8,464.8 L363.3,466.8 L363.8,468.7 L364.3,470.5 L364.8,472.2 L365.3,473.9 L365.8,475.4 L366.3,476.9 L366.8,478.3 L367.3,479.7 L367.8,480.9 L368.3,482.1 L368.8,483.3 L369.3,484.3 L369.8,485.3 L370.3,486.3 L370.8,487.2 L371.3,488.1 L371.8,488.9 L372.3,489.6 L372.8,490.4 L373.3,491.0 L373.8,491.7 L374.3,492.3 L374.8,492.9 L375.3,493.4 L375.8,493.9 L376.3,494.4 L376.8,494.9 L377.3,495.4 L377.8,495.8 L378.3,496.2 L378.8,496.6 L379.3,496.9 L379.8,497.3 L380.3,497.6 L380.8,497.9 L381.3,498.2 L381.8,498.5 L382.3,498.8 L382.8,499.0 L383.3,499.3 L383.8,499.5 L384.3,499.8 L384.8,500.0 L385.3,500.2 L385.8,500.4 L386.3,500.6 L386.8,500.8 L387.3,501.0 L387.8,501.2 L388.3,501.3 L388.8,501.5 L389.3,501.7 L389.8,501.8 L390.3,502.0 L390.8,502.1 L391.3,502.3 L391.8,502.4 L392.3,502.5 L392.8,502.7 L393.3,502.8 L393.8,502.9 L394.3,503.0 L394.8,503.1 L395.3,503.2 L395.8,503.4 L396.3,503.5 L396.8,503.6 L397.3,503.7 L397.8,503.7 L398.3,503.8 L398.8,503.9 L399.3,504.0 L399.8,504.1 L400.3,504.2 L400.8,504.3 L401.3,504.3 L401.8,504.4 L402.3,504.5 L402.8,504.6 L403.3,504.6 L403.8,504.7 L404.3,504.8 L404.8,504.8 L405.3,504.9 L405.8,504.9 L406.3,505.0 L406.8,505.1 L407.3,505.1 L407.8,505.2 L408.3,505.2 L408.8,505.3 L409.3,505.3 L409.8,505.4 L410.3,505.4 L410.8,505.5 L411.3,505.5 L411.8,505.6 L412.3,505.6 L412.8,505.7 L413.3,505.7 L413.8,505.8 L414.3,505.8 L414.8,505.8 L415.3,505.9 L415.8,505.9 L416.3,505.9 L416.8,506.0 L417.3,506.0 L417.8,506.1 L418.3,506.1 L418.8,506.1 L419.3,506.2 L419.8,506.2 L420.3,506.2 L420.8,506.3 L421.3,506.3 L421.8,506.3 L422.3,506.3 L422.8,506.4 L423.3,506.4 L423.8,506.4 L424.3,506.5 L424.8,506.5 L425.3,506.5 L425.8,506.5 L426.3,506.6 L426.8,506.6 L427.3,506.6 L427.8,506.6" fill="none" stroke="#20a860" stroke-width="1.00" stroke-linejoin="round" stroke-linecap="round" />
<path d="M240.3,504.2 L240.8,504.3 L241.3,504.3 L241.8,504.4 L242.3,504.4 L242.8,504.4 L243.3,504.4 L243.8,504.4 L244.3,504.4 L244.8,504.3 L245.3,504.3 L245.8,504.3 L246.3,504.2 L246.8,504.2 L247.3,504.2 L247.8,504.3 L248.3,504.3 L248.8,504.4 L249.3,504.5 L249.8,504.6 L250.3,504.7 L250.8,504.8 L251.3,505.0 L251.8,505.1 L252.3,505.2 L252.8,505.3 L253.3,505.4 L253.8,505.4 L254.3,505.4 L254.8,505.4 L255.3,505.4 L255.8,505.4 L256.3,505.3 L256.8,505.3 L257.3,505.2 L257.8,505.1 L258.3,505.1 L258.8,505.0 L259.3,505.0 L259.8,505.0 L260.3,505.0 L260.8,505.0 L261.3,505.1 L261.8,505.1 L262.3,505.2 L262.8,505.4 L263.3,505.5 L263.8,505.6 L264.3,505.8 L264.8,505.9 L265.3,506.1 L265.8,506.2 L266.3,506.3 L266.8,506.3 L267.3,506.4 L267.8,506.4 L268.3,506.4 L268.8,506.4 L269.3,506.4 L269.8,506.4 L270.3,506.3 L270.8,506.3 L271.3,506.2 L271.8,506.2 L272.3,506.2 L272.8,506.2 L273.3,506.2 L273.8,506.2 L274.3,506.3 L274.8,506.3 L275.3,506.4 L275.8,506.6 L276.3,506.8 L276.8,506.9 L277.3,507.1 L277.8,507.2 L278.3,507.3 L278.8,507.4 L279.3,507.5 L279.8,507.5 L280.3,507.4 L280.8,507.4 L281.3,507.3 L281.8,507.2 L282.3,507.1 L282.8,506.9 L283.3,506.8 L283.8,506.7 L284.3,506.6 L284.8,506.4 L285.3,506.4 L285.8,506.3 L286.3,506.2 L286.8,506.2 L287.3,506.2 L287.8,506.1 L288.3,506.1 L288.8,506.1 L289.3,506.0 L289.8,505.8 L290.3,505.6 L290.8,505.3 L291.3,505.0 L291.8,504.6 L292.3,504.2 L292.8,503.8 L293.3,503.4 L293.8,503.0 L294.3,502.6 L294.8,502.2 L295.3,501.9 L295.8,501.6 L296.3,501.3 L296.8,501.0 L297.3,500.8 L297.8,500.6 L298.3,500.4 L298.8,500.2 L299.3,500.1 L299.8,499.9 L300.3,499.1 L300.8,499.1 L301.3,499.0 L301.8,498.9 L302.3,498.8 L302.8,498.8 L303.3,498.7 L303.8,498.6 L304.3,498.5 L304.8,498.4 L305.3,498.3 L305.8,498.1 L306.3,498.0 L306.8,497.8 L307.3,497.7 L307.8,497.5 L308.3,497.3 L308.8,497.1 L309.3,496.9 L309.8,496.6 L310.3,496.3 L310.8,496.0 L311.3,495.7 L311.8,495.3 L312.3,495.0 L312.8,494.5 L313.3,494.1 L313.8,493.6 L314.3,493.1 L314.8,492.6 L315.3,492.0 L315.8,491.4 L316.3,490.8 L316.8,490.1 L317.3,489.4 L317.8,488.7 L318.3,487.9 L318.8,487.1 L319.3,486.2 L319.8,485.3 L320.3,484.4 L320.8,483.4 L321.3,482.4 L321.8,481.4 L322.3,480.3 L322.8,479.2 L323.3,478.0 L323.8,476.8 L324.3,475.6 L324.8,474.3 L325.3,473.0 L325.8,471.7 L326.3,470.3 L326.8,468.9 L327.3,467.5 L327.8,466.0 L328.3,464.5 L328.8,463.0 L329.3,461.4 L329.8,459.8 L330.3,458.2 L330.8,456.6 L331.3,454.9 L331.8,453.1 L332.3,451.4 L332.8,449.6 L333.3,447.8 L333.8,445.9 L334.3,444.0 L334.8,442.0 L335.3,440.0 L335.8,438.0 L336.3,435.9 L336.8,433.7 L337.3,431.5 L337.8,429.3 L338.3,427.0 L338.8,424.6 L339.3,422.2 L339.8,419.8 L340.3,417.3 L340.8,414.9 L341.3,412.4 L341.8,409.9 L342.3,407.5 L342.8,405.0 L343.3,402.6 L343.8,400.2 L344.3,398.1 L344.8,396.1 L345.3,394.5 L345.8,393.1 L346.3,392.0 L346.8,391.3 L347.3,390.9 L347.8,390.7 L348.3,390.8 L348.8,391.1 L349.3,391.6 L349.8,392.3 L350.3,393.2 L350.8,394.3 L351.3,395.6 L351.8,397.1 L352.3,398.8 L352.8,400.6 L353.3,402.6 L353.8,404.7 L354.3,407.0 L354.8,409.4 L355.3,411.9 L355.8,414.5 L356.3,417.2 L356.8,420.0 L357.3,422.9 L357.8,425.8 L358.3,428.7 L358.8,431.7 L359.3,434.7 L359.8,437.7 L360.3,440.7 L360.8,443.7 L361.3,446.6 L361.8,449.6 L362.3,452.5 L362.8,455.3 L363.3,458.1 L363.8,460.8 L364.3,463.5 L364.8,466.1 L365.3,468.6 L365.8,471.0 L366.3,473.3 L366.8,475.6 L367.3,477.7 L367.8,479.8 L368.3,481.8 L368.8,483.6 L369.3,485.4 L369.8,487.1 L370.3,488.7 L370.8,490.2 L371.3,491.6 L371.8,493.0 L372.3,494.3 L372.8,495.5 L373.3,496.6 L373.8,497.7 L374.3,498.7 L374.8,499.6 L375.3,500.5 L375.8,501.3 L376.3,502.0 L376.8,502.7 L377.3,503.3 L377.8,503.9 L378.3,504.4 L378.8,504.8 L379.3,505.3 L379.8,505.6 L380.3,506.0 L380.8,506.3 L381.3,506.5 L381.8,506.8 L382.3,507.0 L382.8,507.2 L383.3,507.3 L383.8,507.4 L384.3,507.6 L384.8,507.6 L385.3,507.7 L385.8,507.8 L386.3,507.8 L386.8,507.9 L387.3,507.9 L387.8,507.9 L388.3,507.9 L388.8,507.9 L389.3,507.9 L389.8,507.9 L390.3,507.9 L390.8,507.9 L391.3,507.9 L391.8,507.9 L392.3,507.9 L392.8,507.9 L393.3,507.8 L393.8,507.8 L394.3,507.8 L394.8,507.8 L395.3,507.9 L395.8,507.9 L396.3,507.9 L396.8,507.9 L397.3,507.9 L397.8,507.9 L398.3,508.0 L398.8,508.0 L399.3,508.0 L399.8,508.1 L400.3,508.1 L400.8,508.2 L401.3,508.2 L401.8,508.3 L402.3,508.3 L402.8,508.4 L403.3,508.4 L403.8,508.5 L404.3,508.5 L404.8,508.6 L405.3,508.6 L405.8,508.7 L406.3,508.7 L406.8,508.8 L407.3,508.8 L407.8,508.8 L408.3,508.9 L408.8,508.9 L409.3,508.9 L409.8,508.9 L410.3,509.0 L410.8,509.0 L411.3,509.0 L411.8,509.0 L412.3,509.0 L412.8,509.0 L413.3,508.9 L413.8,508.9 L414.3,508.9 L414.8,508.9 L415.3,508.8 L415.8,508.8 L416.3,508.7 L416.8,508.7 L417.3,508.7 L417.8,508.6 L418.3,508.6 L418.8,508.5 L419.3,508.5 L419.8,508.4 L420.3,508.4 L420.8,508.3 L421.3,508.3 L421.8,508.2 L422.3,508.2 L422.8,508.2 L423.3,508.1 L423.8,508.1 L424.3,508.1 L424.8,508.0 L425.3,508.0 L425.8,508.0 L426.3,508.0 L426.8,508.0 L427.3,508.0 L427.8,508.0" fill="none" stroke="#3a3a3a" stroke-width="1.00" stroke-linejoin="round" stroke-linecap="round" />
<path d="M240.3,502.4 L240.8,502.4 L241.3,502.4 L241.8,502.4 L242.3,502.4 L242.8,502.4 L243.3,502.4 L243.8,502.3 L244.3,502.3 L244.8,502.3 L245.3,502.3 L245.8,502.3 L246.3,502.3 L246.8,502.3 L247.3,502.3 L247.8,502.3 L248.3,502.2 L248.8,502.2 L249.3,502.2 L249.8,502.2 L250.3,502.2 L250.8,502.2 L251.3,502.2 L251.8,502.2 L252.3,502.1 L252.8,502.1 L253.3,502.1 L253.8,502.1 L254.3,502.1 L254.8,502.1 L255.3,502.1 L255.8,502.0 L256.3,502.0 L256.8,502.0 L257.3,502.0 L257.8,502.0 L258.3,502.0 L258.8,501.9 L259.3,501.9 L259.8,501.9 L260.3,501.9 L260.8,501.9 L261.3,501.8 L261.8,501.8 L262.3,501.8 L262.8,501.8 L263.3,501.8 L263.8,501.7 L264.3,501.7 L264.8,501.7 L265.3,501.7 L265.8,501.7 L266.3,501.6 L266.8,501.6 L267.3,501.6 L267.8,501.6 L268.3,501.5 L268.8,501.5 L269.3,501.5 L269.8,501.5 L270.3,501.5 L270.8,501.4 L271.3,501.4 L271.8,501.4 L272.3,501.3 L272.8,501.3 L273.3,501.3 L273.8,501.3 L274.3,501.2 L274.8,501.2 L275.3,501.2 L275.8,501.1 L276.3,501.1 L276.8,501.1 L277.3,501.0 L277.8,501.0 L278.3,501.0 L278.8,500.9 L279.3,500.9 L279.8,500.9 L280.3,500.8 L280.8,500.8 L281.3,500.7 L281.8,500.7 L282.3,500.7 L282.8,500.6 L283.3,500.6 L283.8,500.5 L284.3,500.5 L284.8,500.4 L285.3,500.4 L285.8,500.3 L286.3,500.3 L286.8,500.2 L287.3,500.2 L287.8,500.1 L288.3,500.1 L288.8,500.0 L289.3,500.0 L289.8,499.9 L290.3,499.9 L290.8,499.8 L291.3,499.7 L291.8,499.7 L292.3,499.6 L292.8,499.5 L293.3,499.5 L293.8,499.4 L294.3,499.3 L294.8,499.2 L295.3,499.2 L295.8,499.1 L296.3,499.0 L296.8,498.9 L297.3,498.8 L297.8,498.7 L298.3,498.6 L298.8,498.5 L299.3,498.4 L299.8,498.3 L300.3,498.2 L300.8,498.1 L301.3,498.0 L301.8,497.9 L302.3,497.7 L302.8,497.6 L303.3,497.4 L303.8,497.3 L304.3,497.1 L304.8,497.0 L305.3,496.8 L305.8,496.6 L306.3,496.4 L306.8,496.2 L307.3,496.0 L307.8,495.8 L308.3,495.6 L308.8,495.3 L309.3,495.0 L309.8,494.8 L310.3,494.4 L310.8,494.1 L311.3,493.8 L311.8,493.4 L312.3,493.1 L312.8,492.7 L313.3,492.2 L313.8,491.8 L314.3,491.3 L314.8,490.8 L315.3,490.3 L315.8,489.7 L316.3,489.1 L316.8,488.5 L317.3,487.8 L317.8,487.1 L318.3,486.4 L318.8,485.6 L319.3,484.8 L319.8,484.0 L320.3,483.1 L320.8,482.2 L321.3,481.2 L321.8,480.3 L322.3,479.2 L322.8,478.2 L323.3,477.1 L323.8,475.9 L324.3,474.7 L324.8,473.5 L325.3,472.3 L325.8,471.0 L326.3,469.6 L326.8,468.3 L327.3,466.9 L327.8,465.4 L328.3,463.9 L328.8,462.4 L329.3,460.9 L329.8,459.3 L330.3,457.7 L330.8,456.1 L331.3,454.4 L331.8,452.7 L332.3,450.9 L332.8,449.1 L333.3,447.3 L333.8,445.5 L334.3,443.5 L334.8,441.6 L335.3,439.6 L335.8,437.6 L336.3,435.5 L336.8,433.3 L337.3,431.1 L337.8,428.9 L338.3,426.6 L338.8,424.2 L339.3,421.8 L339.8,419.4 L340.3,416.9 L340.8,414.5 L341.3,412.0 L341.8,409.5 L342.3,407.1 L342.8,404.8 L343.3,402.5 L343.8,400.3 L344.3,398.3 L344.8,396.5 L345.3,394.9 L345.8,393.5 L346.3,392.3 L346.8,391.5 L347.3,391.0 L347.8,390.8 L348.3,391.0 L348.8,391.5 L349.3,392.3 L349.8,393.5 L350.3,395.1 L350.8,396.9 L351.3,399.0 L351.8,401.3 L352.3,403.9 L352.8,406.6 L353.3,409.5 L353.8,412.6 L354.3,415.7 L354.8,418.8 L355.3,422.0 L355.8,425.2 L356.3,428.4 L356.8,431.5 L357.3,434.6 L357.8,437.7 L358.3,440.7 L358.8,443.6 L359.3,446.4 L359.8,449.1 L360.3,451.8 L360.8,454.3 L361.3,456.8 L361.8,459.1 L362.3,461.3 L362.8,463.5 L363.3,465.6 L363.8,467.5 L364.3,469.4 L364.8,471.2 L365.3,472.9 L365.8,474.5 L366.3,476.0 L366.8,477.5 L367.3,478.8 L367.8,480.1 L368.3,481.4 L368.8,482.5 L369.3,483.6 L369.8,484.7 L370.3,485.7 L370.8,486.6 L371.3,487.5 L371.8,488.3 L372.3,489.1 L372.8,489.9 L373.3,490.6 L373.8,491.2 L374.3,491.8 L374.8,492.4 L375.3,493.0 L375.8,493.5 L376.3,494.0 L376.8,494.5 L377.3,495.0 L377.8,495.4 L378.3,495.8 L378.8,496.2 L379.3,496.6 L379.8,496.9 L380.3,497.3 L380.8,497.6 L381.3,497.9 L381.8,498.2 L382.3,498.5 L382.8,498.8 L383.3,499.0 L383.8,499.3 L384.3,499.5 L384.8,499.7 L385.3,500.0 L385.8,500.2 L386.3,500.4 L386.8,500.6 L387.3,500.8 L387.8,501.0 L388.3,501.1 L388.8,501.3 L389.3,501.5 L389.8,501.6 L390.3,501.8 L390.8,501.9 L391.3,502.1 L391.8,502.2 L392.3,502.4 L392.8,502.5 L393.3,502.6 L393.8,502.7 L394.3,502.9 L394.8,503.0 L395.3,503.1 L395.8,503.2 L396.3,503.3 L396.8,503.4 L397.3,503.5 L397.8,503.6 L398.3,503.7 L398.8,503.8 L399.3,503.9 L399.8,504.0 L400.3,504.0 L400.8,504.1 L401.3,504.2 L401.8,504.3 L402.3,504.4 L402.8,504.4 L403.3,504.5 L403.8,504.6 L404.3,504.6 L404.8,504.7 L405.3,504.8 L405.8,504.8 L406.3,504.9 L406.8,505.0 L407.3,505.0 L407.8,505.1 L408.3,505.1 L408.8,505.2 L409.3,505.2 L409.8,505.3 L410.3,505.3 L410.8,505.4 L411.3,505.4 L411.8,505.5 L412.3,505.5 L412.8,505.6 L413.3,505.6 L413.8,505.7 L414.3,505.7 L414.8,505.7 L415.3,505.8 L415.8,505.8 L416.3,505.9 L416.8,505.9 L417.3,505.9 L417.8,506.0 L418.3,506.0 L418.8,506.0 L419.3,506.1 L419.8,506.1 L420.3,506.1 L420.8,506.2 L421.3,506.2 L421.8,506.2 L422.3,506.3 L422.8,506.3 L423.3,506.3 L423.8,506.3 L424.3,506.4 L424.8,506.4 L425.3,506.4 L425.8,506.5 L426.3,506.5 L426.8,506.5 L427.3,506.5 L427.8,506.6" fill="none" stroke="#f02a2a" stroke-width="1.00" stroke-linejoin="round" stroke-linecap="round" /></svg>
</body></html>
